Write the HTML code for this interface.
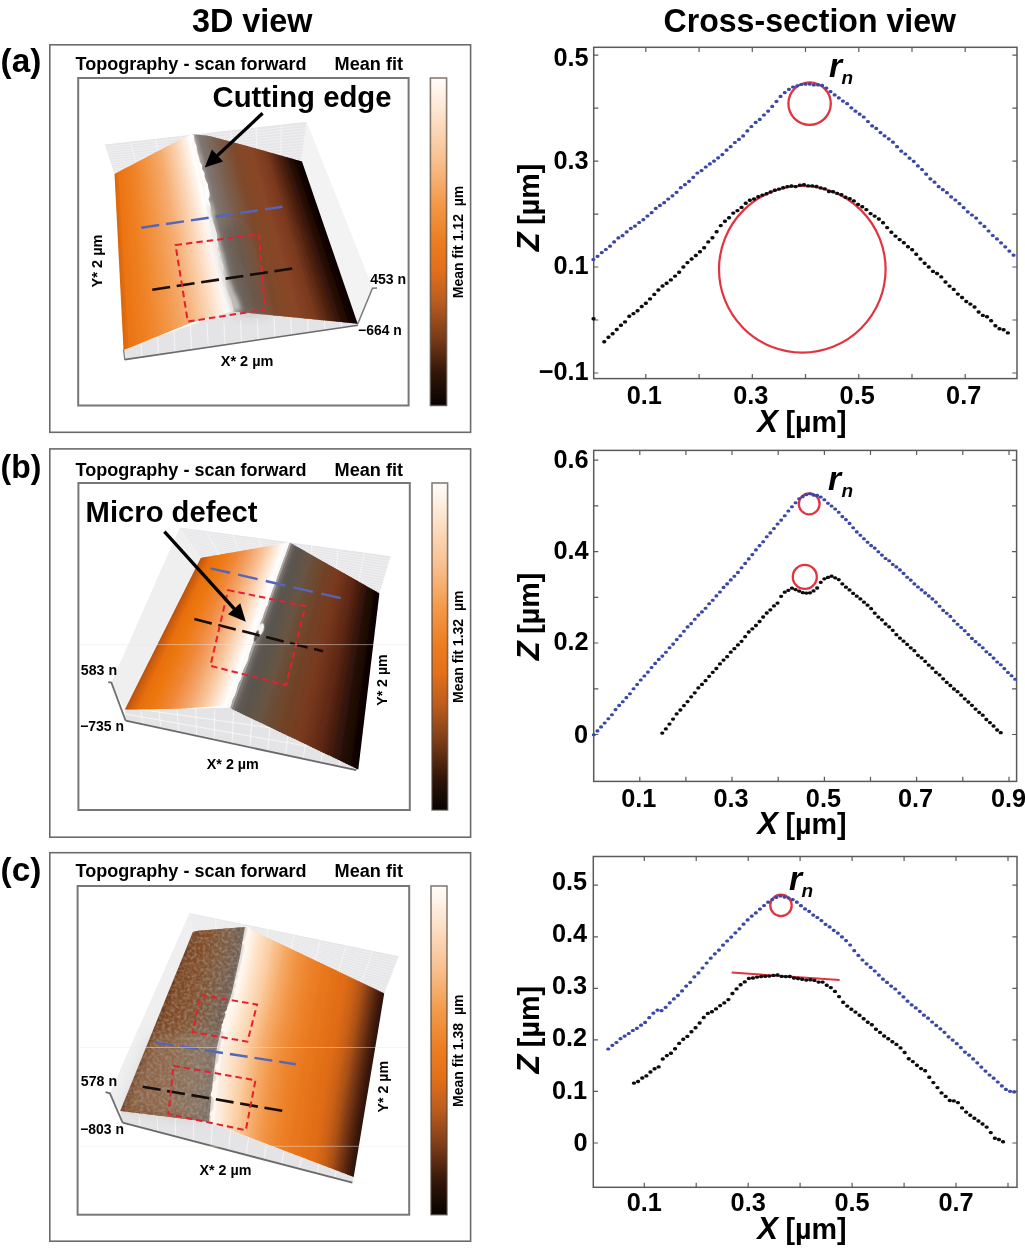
<!DOCTYPE html>
<html lang="en"><head><meta charset="utf-8"><title>3D view and cross-section view</title>
<style>html,body{margin:0;padding:0;background:#fff}svg{display:block}text{font-family:"Liberation Sans", Arial, Helvetica, sans-serif;font-weight:bold;fill:#000}</style>
</head><body>
<svg width="1025" height="1250" viewBox="0 0 1025 1250">
<rect width="1025" height="1250" fill="#fff"/>
<defs>
<linearGradient id="cbar" x1="0" y1="0" x2="0" y2="1"><stop offset="0" stop-color="#fffdfb"/><stop offset="0.12" stop-color="#fce0c8"/><stop offset="0.25" stop-color="#f8c090"/><stop offset="0.38" stop-color="#f39a4a"/><stop offset="0.50" stop-color="#ec7c20"/><stop offset="0.58" stop-color="#e4701a"/><stop offset="0.68" stop-color="#bc5c1e"/><stop offset="0.79" stop-color="#7c3c18"/><stop offset="0.90" stop-color="#321608"/><stop offset="1" stop-color="#060202"/></linearGradient>
<filter id="b0" x="-2%" y="-2%" width="104%" height="104%"><feGaussianBlur stdDeviation="0.45"/></filter><filter id="b1" x="-5%" y="-5%" width="110%" height="110%"><feGaussianBlur stdDeviation="0.7"/></filter><filter id="nz" x="0" y="0" width="100%" height="100%"><feTurbulence type="fractalNoise" baseFrequency="0.32" numOctaves="2" seed="5"/><feColorMatrix type="matrix" values="0 0 0 0 0.56  0 0 0 0 0.48  0 0 0 0 0.42  0.95 0 0 0 -0.36"/><feGaussianBlur stdDeviation="0.7"/></filter><filter id="b3" x="-30%" y="-30%" width="160%" height="160%"><feGaussianBlur stdDeviation="7"/></filter><filter id="b2" x="-20%" y="-20%" width="140%" height="140%"><feGaussianBlur stdDeviation="2"/></filter>
</defs>
<text x="192" y="32.3" font-size="32.3" textLength="120.5" lengthAdjust="spacingAndGlyphs">3D view</text>
<text x="663.5" y="32.3" font-size="32.3" textLength="292.5" lengthAdjust="spacingAndGlyphs">Cross-section view</text>
<text x="0.6" y="71.6" font-size="33" textLength="40.8" lengthAdjust="spacingAndGlyphs">(a)</text>
<rect x="49.8" y="44.8" width="420.8" height="387.5" fill="none" stroke="#6b6b6b" stroke-width="1.6"/>
<text x="75.6" y="69.8" font-size="18" textLength="231" lengthAdjust="spacingAndGlyphs">Topography - scan forward</text>
<text x="334.6" y="69.8" font-size="18" textLength="68.5" lengthAdjust="spacingAndGlyphs">Mean fit</text>
<rect x="78.2" y="78.0" width="330.4" height="327.5" fill="#fff" stroke="#777" stroke-width="2"/>
<rect x="430.4" y="78.0" width="16.2" height="327.5" fill="url(#cbar)" stroke="#54463c" stroke-opacity="0.7" stroke-width="1.6"/>
<text x="0.6" y="478.0" font-size="33" textLength="40.8" lengthAdjust="spacingAndGlyphs">(b)</text>
<rect x="49.8" y="448.9" width="420.8" height="388.3" fill="none" stroke="#6b6b6b" stroke-width="1.6"/>
<text x="75.6" y="475.5" font-size="18" textLength="231" lengthAdjust="spacingAndGlyphs">Topography - scan forward</text>
<text x="334.6" y="475.5" font-size="18" textLength="68.5" lengthAdjust="spacingAndGlyphs">Mean fit</text>
<rect x="78.4" y="483.0" width="331.4" height="327.0" fill="#fff" stroke="#777" stroke-width="2"/>
<rect x="432.0" y="483.0" width="15.6" height="327.0" fill="url(#cbar)" stroke="#54463c" stroke-opacity="0.7" stroke-width="1.6"/>
<text x="0.6" y="881.0" font-size="33" textLength="40.8" lengthAdjust="spacingAndGlyphs">(c)</text>
<rect x="49.8" y="852.7" width="420.8" height="388.5" fill="none" stroke="#6b6b6b" stroke-width="1.6"/>
<text x="75.6" y="877.2" font-size="18" textLength="231" lengthAdjust="spacingAndGlyphs">Topography - scan forward</text>
<text x="334.6" y="877.2" font-size="18" textLength="68.5" lengthAdjust="spacingAndGlyphs">Mean fit</text>
<rect x="77.6" y="886.0" width="331.6" height="328.7" fill="#fff" stroke="#777" stroke-width="2"/>
<rect x="431.0" y="886.0" width="16.0" height="328.7" fill="url(#cbar)" stroke="#54463c" stroke-opacity="0.7" stroke-width="1.6"/>
<polygon points="104.8,144.4 306.6,121.8 304.0,165.0 192.0,136.0 116.0,178.0" fill="#e6e6e8" />
<line x1="105.6" y1="146.7" x2="306.4" y2="124.7" stroke="#fff" stroke-width="0.70" stroke-opacity="0.55"/>
<line x1="106.4" y1="148.9" x2="306.2" y2="127.7" stroke="#fff" stroke-width="0.70" stroke-opacity="0.55"/>
<line x1="107.2" y1="151.2" x2="306.0" y2="130.6" stroke="#fff" stroke-width="0.70" stroke-opacity="0.55"/>
<line x1="108.0" y1="153.4" x2="305.9" y2="133.6" stroke="#fff" stroke-width="0.70" stroke-opacity="0.55"/>
<line x1="108.8" y1="155.7" x2="305.7" y2="136.5" stroke="#fff" stroke-width="0.70" stroke-opacity="0.55"/>
<line x1="109.6" y1="157.9" x2="305.5" y2="139.5" stroke="#fff" stroke-width="0.70" stroke-opacity="0.55"/>
<line x1="110.4" y1="160.2" x2="305.3" y2="142.4" stroke="#fff" stroke-width="0.70" stroke-opacity="0.55"/>
<line x1="111.2" y1="162.5" x2="305.1" y2="145.3" stroke="#fff" stroke-width="0.70" stroke-opacity="0.55"/>
<line x1="112.0" y1="164.7" x2="304.9" y2="148.3" stroke="#fff" stroke-width="0.70" stroke-opacity="0.55"/>
<line x1="112.8" y1="167.0" x2="304.7" y2="151.2" stroke="#fff" stroke-width="0.70" stroke-opacity="0.55"/>
<line x1="113.6" y1="169.2" x2="304.6" y2="154.2" stroke="#fff" stroke-width="0.70" stroke-opacity="0.55"/>
<line x1="114.4" y1="171.5" x2="304.4" y2="157.1" stroke="#fff" stroke-width="0.70" stroke-opacity="0.55"/>
<line x1="115.2" y1="173.7" x2="304.2" y2="160.1" stroke="#fff" stroke-width="0.70" stroke-opacity="0.55"/>
<line x1="130.0" y1="141.6" x2="139.5" y2="174.4" stroke="#fff" stroke-width="0.80" stroke-opacity="0.60"/>
<line x1="155.2" y1="138.8" x2="163.0" y2="172.8" stroke="#fff" stroke-width="0.80" stroke-opacity="0.60"/>
<line x1="180.5" y1="135.9" x2="186.5" y2="171.1" stroke="#fff" stroke-width="0.80" stroke-opacity="0.60"/>
<line x1="205.7" y1="133.1" x2="210.0" y2="169.5" stroke="#fff" stroke-width="0.80" stroke-opacity="0.60"/>
<line x1="230.9" y1="130.3" x2="233.5" y2="167.9" stroke="#fff" stroke-width="0.80" stroke-opacity="0.60"/>
<line x1="256.2" y1="127.5" x2="257.0" y2="166.2" stroke="#fff" stroke-width="0.80" stroke-opacity="0.60"/>
<line x1="281.4" y1="124.6" x2="280.5" y2="164.6" stroke="#fff" stroke-width="0.80" stroke-opacity="0.60"/>
<polygon points="306.6,121.8 372.7,288.0 357.7,323.7 301.0,160.0" fill="#f3f3f4" />
<polygon points="123.5,349.0 232.0,310.5 357.7,323.7 358.0,325.5 125.2,360.0" fill="#e4e4e6" />
<line x1="141.8" y1="357.5" x2="140.2" y2="328.6" stroke="#fff" stroke-width="0.80" stroke-opacity="0.80"/>
<line x1="158.5" y1="355.1" x2="157.0" y2="327.1" stroke="#fff" stroke-width="0.80" stroke-opacity="0.80"/>
<line x1="175.1" y1="352.6" x2="173.7" y2="325.7" stroke="#fff" stroke-width="0.80" stroke-opacity="0.80"/>
<line x1="191.7" y1="350.1" x2="190.4" y2="324.3" stroke="#fff" stroke-width="0.80" stroke-opacity="0.80"/>
<line x1="208.3" y1="347.7" x2="207.1" y2="322.9" stroke="#fff" stroke-width="0.80" stroke-opacity="0.80"/>
<line x1="225.0" y1="345.2" x2="223.9" y2="321.4" stroke="#fff" stroke-width="0.80" stroke-opacity="0.80"/>
<line x1="241.6" y1="342.8" x2="240.6" y2="320.0" stroke="#fff" stroke-width="0.80" stroke-opacity="0.80"/>
<line x1="258.2" y1="340.3" x2="257.3" y2="318.6" stroke="#fff" stroke-width="0.80" stroke-opacity="0.80"/>
<line x1="274.9" y1="337.8" x2="274.1" y2="317.1" stroke="#fff" stroke-width="0.80" stroke-opacity="0.80"/>
<line x1="291.5" y1="335.4" x2="290.8" y2="315.7" stroke="#fff" stroke-width="0.80" stroke-opacity="0.80"/>
<line x1="308.1" y1="332.9" x2="307.5" y2="314.3" stroke="#fff" stroke-width="0.80" stroke-opacity="0.80"/>
<line x1="324.7" y1="330.4" x2="324.2" y2="312.9" stroke="#fff" stroke-width="0.80" stroke-opacity="0.80"/>
<line x1="341.4" y1="328.0" x2="341.0" y2="311.4" stroke="#fff" stroke-width="0.80" stroke-opacity="0.80"/>
<line x1="124.6" y1="359.6" x2="358.0" y2="325.2" stroke="#6a6a6a" stroke-width="1.60" />
<line x1="123.5" y1="349.5" x2="124.8" y2="360.0" stroke="#777" stroke-width="1.20" />
<polyline points="357.7,324 372.5,288.3 377,288" fill="none" stroke="#7a7a7a" stroke-width="1.5"/>
<g filter="url(#b1)"><polygon points="114.5,174.0 117.5,172.4 127.6,348.3 123.5,350.0" fill="#dc670e"/>
<polygon points="116.4,173.0 119.3,171.5 130.2,347.3 126.1,349.0" fill="#e46d10"/>
<polygon points="118.2,172.1 121.2,170.5 132.8,346.3 128.6,347.9" fill="#ec7412"/>
<polygon points="120.1,171.1 123.0,169.5 135.3,345.2 131.2,346.9" fill="#ec7614"/>
<polygon points="121.9,170.1 124.9,168.6 137.9,344.2 133.8,345.9" fill="#ed7817"/>
<polygon points="123.8,169.1 126.7,167.6 140.5,343.2 136.4,344.8" fill="#ed7a1a"/>
<polygon points="125.6,168.2 128.6,166.6 143.1,342.1 138.9,343.8" fill="#ee7c1d"/>
<polygon points="127.5,167.2 130.4,165.7 145.6,341.1 141.5,342.7" fill="#ee7e1f"/>
<polygon points="129.3,166.2 132.3,164.7 148.2,340.0 144.1,341.7" fill="#ef8022"/>
<polygon points="131.2,165.3 134.1,163.7 150.8,339.0 146.7,340.7" fill="#ef8225"/>
<polygon points="133.0,164.3 136.0,162.7 153.4,338.0 149.2,339.6" fill="#f08428"/>
<polygon points="134.9,163.3 137.8,161.8 155.9,336.9 151.8,338.6" fill="#f0862c"/>
<polygon points="136.7,162.4 139.7,160.8 158.5,335.9 154.4,337.6" fill="#f08931"/>
<polygon points="138.6,161.4 141.6,159.8 161.1,334.9 157.0,336.5" fill="#f18c35"/>
<polygon points="140.4,160.4 143.4,158.9 163.7,333.8 159.5,335.5" fill="#f18e3a"/>
<polygon points="142.3,159.4 145.3,157.9 166.2,332.8 162.1,334.4" fill="#f2913e"/>
<polygon points="144.1,158.5 147.1,156.9 168.8,331.7 164.7,333.4" fill="#f29443"/>
<polygon points="146.0,157.5 149.0,155.9 171.4,330.7 167.3,332.4" fill="#f29647"/>
<polygon points="147.9,156.5 150.8,155.0 174.0,329.7 169.8,331.3" fill="#f3994c"/>
<polygon points="149.7,155.6 152.7,154.0 176.5,328.6 172.4,330.3" fill="#f39c52"/>
<polygon points="151.6,154.6 154.5,153.0 179.1,327.6 175.0,329.3" fill="#f49f58"/>
<polygon points="153.4,153.6 156.4,152.1 181.7,326.6 177.6,328.2" fill="#f4a25e"/>
<polygon points="155.3,152.6 158.2,151.1 184.2,325.5 180.1,327.2" fill="#f4a563"/>
<polygon points="157.1,151.7 160.1,150.1 186.8,324.5 182.7,326.1" fill="#f5a869"/>
<polygon points="159.0,150.7 161.9,149.2 189.4,323.5 185.3,325.1" fill="#f5ab6f"/>
<polygon points="160.8,149.7 163.8,148.2 192.0,322.4 187.9,324.1" fill="#f6af75"/>
<polygon points="162.7,148.8 165.6,147.2 194.6,321.6 190.4,323.0" fill="#f6b47e"/>
<polygon points="164.5,147.8 167.5,146.2 197.2,320.9 193.0,322.0" fill="#f7b986"/>
<polygon points="166.4,146.8 169.3,145.3 199.8,320.1 195.6,321.3" fill="#f8be8e"/>
<polygon points="168.2,145.9 171.2,144.3 202.4,319.4 198.2,320.6" fill="#f8c397"/>
<polygon points="170.1,144.9 173.1,143.3 205.0,318.7 200.8,319.9" fill="#f9c89f"/>
<polygon points="171.9,143.9 174.9,142.4 207.6,318.0 203.4,319.1" fill="#facda8"/>
<polygon points="173.8,142.9 176.8,141.4 210.2,317.3 206.0,318.4" fill="#fad2b0"/>
<polygon points="175.6,142.0 178.6,140.5 212.8,316.6 208.6,317.7" fill="#fbd7b9"/>
<polygon points="177.5,141.0 180.4,139.7 215.4,315.9 211.2,317.0" fill="#fcdcc2"/>
<polygon points="179.3,140.2 182.2,138.8 218.0,315.2 213.8,316.3" fill="#fce1cc"/>
<polygon points="181.1,139.3 184.0,138.0 220.6,314.4 216.4,315.6" fill="#fde7d5"/>
<polygon points="182.9,138.5 185.8,137.1 223.2,313.7 219.0,314.9" fill="#feecde"/>
<polygon points="184.8,137.7 187.7,136.3 225.8,313.0 221.6,314.2" fill="#fef1e8"/>
<polygon points="186.6,136.8 189.5,135.5 228.4,312.3 224.2,313.4" fill="#fff8f3"/>
<polygon points="188.4,136.0 191.3,134.6 231.0,311.6 226.8,312.7" fill="#ffffff"/>
<polygon points="190.2,135.1 193.1,134.4 233.3,311.4 229.4,312.0" fill="#fcfbfa"/>
<polygon points="192.0,134.3 195.1,134.6 235.5,311.6 232.0,311.3" fill="#cdcbc8"/>
<polygon points="193.9,134.5 197.0,134.7 237.6,311.9 234.2,311.5" fill="#8c8783"/>
<polygon points="195.8,134.6 198.9,134.9 239.8,312.1 236.3,311.7" fill="#857e7a"/>
<polygon points="197.7,134.8 200.8,135.1 242.0,312.3 238.5,311.9" fill="#7f7773"/>
<polygon points="199.6,135.0 202.7,135.3 244.1,312.5 240.7,312.2" fill="#7f746f"/>
<polygon points="201.5,135.2 204.6,135.4 246.3,312.7 242.8,312.4" fill="#7e726b"/>
<polygon points="203.5,135.3 206.5,135.6 248.5,312.9 245.0,312.6" fill="#7d6f67"/>
<polygon points="205.4,135.5 208.4,135.8 250.6,313.1 247.2,312.8" fill="#7d6c63"/>
<polygon points="207.3,135.7 210.3,136.2 252.8,313.4 249.3,313.0" fill="#7c695e"/>
<polygon points="209.2,135.9 212.2,136.7 255.0,313.6 251.5,313.2" fill="#7b675a"/>
<polygon points="211.1,136.4 214.1,137.2 257.1,313.8 253.7,313.4" fill="#7b6456"/>
<polygon points="213.0,136.9 216.0,137.7 259.3,314.0 255.8,313.7" fill="#7a6152"/>
<polygon points="214.8,137.4 217.9,138.2 261.5,314.2 258.0,313.9" fill="#7a5f4e"/>
<polygon points="216.7,137.9 219.8,138.7 263.6,314.4 260.2,314.1" fill="#7a5c4a"/>
<polygon points="218.6,138.4 221.6,139.2 265.8,314.6 262.3,314.3" fill="#7b5a46"/>
<polygon points="220.5,138.9 223.5,139.8 268.0,314.8 264.5,314.5" fill="#7c5842"/>
<polygon points="222.4,139.5 225.4,140.3 270.1,315.1 266.7,314.7" fill="#7c553e"/>
<polygon points="224.3,140.0 227.3,140.8 272.3,315.3 268.8,314.9" fill="#7d533a"/>
<polygon points="226.2,140.5 229.2,141.3 274.5,315.5 271.0,315.1" fill="#7d5036"/>
<polygon points="228.1,141.0 231.1,141.8 276.6,315.7 273.2,315.4" fill="#7e4e32"/>
<polygon points="229.9,141.5 233.0,142.3 278.8,315.9 275.3,315.6" fill="#7f4b2e"/>
<polygon points="231.8,142.0 234.9,142.8 281.0,316.1 277.5,315.8" fill="#7f492a"/>
<polygon points="233.7,142.5 236.7,143.3 283.1,316.3 279.7,316.0" fill="#804829"/>
<polygon points="235.6,143.0 238.6,143.8 285.3,316.6 281.8,316.2" fill="#824829"/>
<polygon points="237.5,143.5 240.5,144.3 287.5,316.8 284.0,316.4" fill="#834829"/>
<polygon points="239.4,144.0 242.4,144.8 289.6,317.0 286.2,316.6" fill="#844729"/>
<polygon points="241.3,144.5 244.3,145.3 291.8,317.2 288.3,316.9" fill="#854728"/>
<polygon points="243.2,145.0 246.2,145.8 294.0,317.4 290.5,317.1" fill="#864728"/>
<polygon points="245.1,145.5 248.1,146.3 296.2,317.6 292.7,317.3" fill="#874628"/>
<polygon points="246.9,146.0 250.0,146.9 298.3,317.8 294.8,317.5" fill="#884628"/>
<polygon points="248.8,146.5 251.9,147.4 300.5,318.1 297.0,317.7" fill="#894628"/>
<polygon points="250.7,147.1 253.8,147.9 302.7,318.3 299.2,317.9" fill="#884426"/>
<polygon points="252.6,147.6 255.7,148.5 304.8,318.5 301.4,318.1" fill="#864325"/>
<polygon points="254.5,148.1 257.6,149.0 307.0,318.7 303.5,318.4" fill="#844124"/>
<polygon points="256.4,148.7 259.5,149.5 309.2,318.9 305.7,318.6" fill="#824023"/>
<polygon points="258.3,149.2 261.4,150.1 311.3,319.1 307.9,318.8" fill="#803e21"/>
<polygon points="260.2,149.7 263.3,150.6 313.5,319.3 310.0,319.0" fill="#7e3d20"/>
<polygon points="262.1,150.3 265.2,151.1 315.7,319.6 312.2,319.2" fill="#7c3b1f"/>
<polygon points="264.0,150.8 267.1,151.7 317.8,319.8 314.4,319.4" fill="#7a3a1e"/>
<polygon points="265.9,151.3 269.0,152.2 320.0,320.0 316.5,319.6" fill="#74371c"/>
<polygon points="267.8,151.9 270.9,152.7 322.2,320.2 318.7,319.9" fill="#6e331a"/>
<polygon points="269.7,152.4 272.8,153.3 324.3,320.4 320.9,320.1" fill="#683018"/>
<polygon points="271.6,153.0 274.7,153.8 326.5,320.6 323.0,320.3" fill="#612c15"/>
<polygon points="273.5,153.5 276.6,154.3 328.7,320.8 325.2,320.5" fill="#5b2913"/>
<polygon points="275.4,154.0 278.5,154.9 330.8,321.0 327.4,320.7" fill="#542511"/>
<polygon points="277.3,154.6 280.4,155.4 333.0,321.3 329.5,320.9" fill="#4e220f"/>
<polygon points="279.2,155.1 282.3,155.9 335.2,321.5 331.7,321.1" fill="#481f0d"/>
<polygon points="281.1,155.6 284.2,156.5 337.3,321.7 333.9,321.3" fill="#411b0c"/>
<polygon points="283.0,156.2 286.0,157.0 339.5,321.9 336.0,321.6" fill="#3a180a"/>
<polygon points="284.9,156.7 287.9,157.5 341.7,322.1 338.2,321.8" fill="#341509"/>
<polygon points="286.8,157.2 289.8,158.1 343.8,322.3 340.4,322.0" fill="#2d1108"/>
<polygon points="288.7,157.8 291.7,158.6 346.0,322.5 342.5,322.2" fill="#270e06"/>
<polygon points="290.6,158.3 293.6,159.1 348.2,322.8 344.7,322.4" fill="#200b05"/>
<polygon points="292.5,158.8 295.5,159.7 350.3,323.0 346.9,322.6" fill="#1a0804"/>
<polygon points="294.4,159.4 297.4,160.2 352.5,323.2 349.0,322.8" fill="#160603"/>
<polygon points="296.3,159.9 299.3,160.8 354.7,323.4 351.2,323.1" fill="#120503"/>
<polygon points="298.2,160.4 301.2,161.3 356.8,323.6 353.4,323.3" fill="#0f0402"/>
<polygon points="300.1,161.0 302.0,161.5 357.7,323.7 355.5,323.5" fill="#0b0202"/></g>
<polygon points="218.0,225.0 240.0,225.0 266.0,312.0 238.0,312.0" fill="#46423e" fill-opacity="0.33" filter="url(#b3)"/>
<polygon points="193.5,135.0 195.2,138.8 196.5,142.5 197.4,146.3 197.7,150.1 199.7,153.9 201.4,157.6 202.0,161.4 202.8,165.2 203.1,168.9 204.0,172.7 205.1,176.5 206.3,180.3 207.1,184.1 208.3,187.9 208.3,191.8 209.0,195.7 209.7,199.5 211.3,203.4 212.5,207.3 213.8,211.2 214.2,215.0 213.4,218.9 214.3,222.8 215.4,226.6 216.1,230.5 218.1,234.3 218.5,238.2 219.0,242.0 220.8,245.8 220.9,249.7 223.1,253.5 223.7,257.4 224.8,261.2 225.3,265.0 226.4,268.9 227.0,272.7 228.0,276.5 229.8,280.3 230.6,284.1 232.9,287.8 233.4,291.6 236.2,295.4 238.1,299.1 239.3,302.9 240.6,306.7 241.4,310.5 231.5,310.5 230.5,306.7 229.6,302.9 228.6,299.1 227.5,295.4 226.4,291.6 225.3,287.8 224.2,284.1 223.0,280.3 222.1,276.5 221.3,272.7 220.5,268.9 219.8,265.0 219.0,261.2 218.2,257.4 217.4,253.5 216.6,249.7 215.9,245.8 215.2,242.0 214.4,238.2 213.7,234.3 213.0,230.5 212.3,226.6 211.5,222.8 210.8,218.9 210.3,215.0 209.7,211.2 209.1,207.3 208.5,203.4 208.0,199.5 207.4,195.7 206.8,191.8 206.2,187.9 205.7,184.1 204.7,180.3 203.7,176.5 202.6,172.7 201.6,168.9 200.5,165.2 199.5,161.4 198.4,157.6 197.4,153.9 196.3,150.1 195.3,146.3 194.2,142.5 193.2,138.8 192.1,135.0" fill="#dddad7" fill-opacity="0.72" filter="url(#b2)"/>
<polygon points="194.1,135.0 193.7,138.8 194.4,142.5 196.6,146.3 196.6,150.1 197.5,153.9 198.9,157.6 199.7,161.4 202.0,165.2 202.1,168.9 204.5,172.7 204.6,176.5 205.8,180.3 207.8,184.1 208.2,187.9 209.4,191.8 209.7,195.7 208.4,199.5 210.1,203.4 210.6,207.3 210.5,211.2 210.6,215.0 212.3,218.9 213.0,222.8 214.7,226.6 215.6,230.5 216.9,234.3 217.0,238.2 217.7,242.0 218.2,245.8 218.0,249.7 220.0,253.5 219.9,257.4 221.4,261.2 223.0,265.0 223.5,268.9 222.9,272.7 224.6,276.5 225.7,280.3 225.7,284.1 226.6,287.8 227.8,291.6 228.9,295.4 231.0,299.1 231.9,302.9 232.9,306.7 233.6,310.5 229.0,310.5 228.0,306.7 227.1,302.9 226.1,299.1 225.0,295.4 223.9,291.6 222.8,287.8 221.7,284.1 220.5,280.3 219.6,276.5 218.8,272.7 218.0,268.9 217.3,265.0 216.5,261.2 215.7,257.4 214.9,253.5 214.1,249.7 213.4,245.8 212.7,242.0 211.9,238.2 211.2,234.3 210.5,230.5 209.8,226.6 209.0,222.8 208.3,218.9 207.8,215.0 207.2,211.2 206.6,207.3 206.0,203.4 205.5,199.5 204.9,195.7 204.3,191.8 203.7,187.9 203.2,184.1 202.2,180.3 201.2,176.5 200.1,172.7 199.1,168.9 198.0,165.2 197.0,161.4 195.9,157.6 194.9,153.9 193.8,150.1 192.8,146.3 191.7,142.5 190.7,138.8 189.6,135.0" fill="#fdfcfb" fill-opacity="1.00" filter="url(#b1)"/>
<polygon points="210.3,205.0 211.6,208.6 212.5,212.1 211.7,215.7 212.7,219.2 213.2,222.8 214.1,226.3 214.4,229.8 215.2,233.4 216.1,236.9 216.9,240.5 217.7,244.0 218.5,247.5 219.4,251.1 220.3,254.6 221.2,258.1 222.3,261.7 223.7,265.2 224.1,268.7 224.6,272.2 226.0,275.8 227.1,279.3 228.5,282.7 229.7,286.2 231.6,289.6 232.0,293.1 233.5,296.6 234.0,300.0 235.1,303.5 236.4,307.0 236.9,310.5 231.0,310.5 230.1,307.0 229.2,303.5 228.3,300.0 227.4,296.6 226.3,293.1 225.3,289.6 224.3,286.2 223.3,282.7 222.2,279.3 221.4,275.8 220.7,272.2 220.0,268.7 219.3,265.2 218.6,261.7 217.9,258.1 217.1,254.6 216.4,251.1 215.7,247.5 215.1,244.0 214.4,240.5 213.7,236.9 213.0,233.4 212.4,229.8 211.7,226.3 211.0,222.8 210.4,219.2 209.8,215.7 209.2,212.1 208.6,208.6 208.0,205.0" fill="#bcb8b4" fill-opacity="0.60" filter="url(#b2)"/>
<g filter="url(#b1)">
<line x1="141.4" y1="227.7" x2="282.3" y2="206.8" stroke="#5266b8" stroke-width="2.40" stroke-dasharray="18 7"/>
<line x1="152.3" y1="289.7" x2="292.3" y2="268.5" stroke="#160c08" stroke-width="2.60" stroke-dasharray="18 6.7"/>
<polygon points="175.5,245.0 259.0,234.3 265.0,309.6 187.8,321.6" fill="none" stroke="#e3202e" stroke-width="2" stroke-dasharray="6.5 4"/>
</g>
<line x1="262.6" y1="113.2" x2="216.0" y2="156.9" stroke="#000" stroke-width="3.30" /><polygon points="204.7,167.5 211.9,149.5 223.1,161.5" fill="#000" />
<text x="212.5" y="106.5" font-size="29.3" textLength="179.0" lengthAdjust="spacingAndGlyphs" >Cutting edge</text>
<text x="101.7" y="287.4" font-size="15.3" textLength="53.0" lengthAdjust="spacingAndGlyphs" transform="rotate(-90 101.7 287.4)" >Y* 2 µm</text>
<text x="220.8" y="366.3" font-size="15.0" textLength="52.6" lengthAdjust="spacingAndGlyphs" >X* 2 µm</text>
<text x="370.2" y="283.6" font-size="14.2" textLength="36.0" lengthAdjust="spacingAndGlyphs" >453 n</text>
<text x="358.1" y="335.3" font-size="14.2" textLength="43.6" lengthAdjust="spacingAndGlyphs" >−664 n</text>
<text x="463.4" y="298.2" font-size="14.2" textLength="112.5" lengthAdjust="spacingAndGlyphs" transform="rotate(-90 463.4 298.2)" >Mean fit 1.12  µm</text>
<polygon points="179.8,527.4 390.7,556.3 379.4,593.4 289.6,542.5 200.7,558.0" fill="#e6e6e8" />
<line x1="181.2" y1="529.4" x2="389.9" y2="558.8" stroke="#fff" stroke-width="0.70" stroke-opacity="0.55"/>
<line x1="182.6" y1="531.4" x2="389.2" y2="561.3" stroke="#fff" stroke-width="0.70" stroke-opacity="0.55"/>
<line x1="184.0" y1="533.5" x2="388.4" y2="563.7" stroke="#fff" stroke-width="0.70" stroke-opacity="0.55"/>
<line x1="185.4" y1="535.5" x2="387.7" y2="566.2" stroke="#fff" stroke-width="0.70" stroke-opacity="0.55"/>
<line x1="186.8" y1="537.6" x2="386.9" y2="568.7" stroke="#fff" stroke-width="0.70" stroke-opacity="0.55"/>
<line x1="188.2" y1="539.6" x2="386.2" y2="571.2" stroke="#fff" stroke-width="0.70" stroke-opacity="0.55"/>
<line x1="189.6" y1="541.6" x2="385.4" y2="573.6" stroke="#fff" stroke-width="0.70" stroke-opacity="0.55"/>
<line x1="191.0" y1="543.7" x2="384.7" y2="576.1" stroke="#fff" stroke-width="0.70" stroke-opacity="0.55"/>
<line x1="192.4" y1="545.7" x2="383.9" y2="578.6" stroke="#fff" stroke-width="0.70" stroke-opacity="0.55"/>
<line x1="193.8" y1="547.8" x2="383.2" y2="581.0" stroke="#fff" stroke-width="0.70" stroke-opacity="0.55"/>
<line x1="195.2" y1="549.8" x2="382.4" y2="583.5" stroke="#fff" stroke-width="0.70" stroke-opacity="0.55"/>
<line x1="196.5" y1="551.8" x2="381.7" y2="586.0" stroke="#fff" stroke-width="0.70" stroke-opacity="0.55"/>
<line x1="197.9" y1="553.9" x2="380.9" y2="588.4" stroke="#fff" stroke-width="0.70" stroke-opacity="0.55"/>
<line x1="199.3" y1="555.9" x2="380.2" y2="590.9" stroke="#fff" stroke-width="0.70" stroke-opacity="0.55"/>
<line x1="206.2" y1="531.0" x2="223.1" y2="562.4" stroke="#fff" stroke-width="0.80" stroke-opacity="0.60"/>
<line x1="232.5" y1="534.6" x2="245.4" y2="566.8" stroke="#fff" stroke-width="0.80" stroke-opacity="0.60"/>
<line x1="258.9" y1="538.2" x2="267.7" y2="571.2" stroke="#fff" stroke-width="0.80" stroke-opacity="0.60"/>
<line x1="285.2" y1="541.9" x2="290.1" y2="575.7" stroke="#fff" stroke-width="0.80" stroke-opacity="0.60"/>
<line x1="311.6" y1="545.5" x2="312.4" y2="580.1" stroke="#fff" stroke-width="0.80" stroke-opacity="0.60"/>
<line x1="338.0" y1="549.1" x2="334.7" y2="584.5" stroke="#fff" stroke-width="0.80" stroke-opacity="0.60"/>
<line x1="364.3" y1="552.7" x2="357.1" y2="588.9" stroke="#fff" stroke-width="0.80" stroke-opacity="0.60"/>
<polygon points="179.8,527.4 200.7,558.0 124.8,709.6 111.4,682.6" fill="#efeff0" />
<polygon points="124.8,709.6 229.4,707.8 358.3,769.4 356.3,770.2 125.6,720.6" fill="#e4e4e6" />
<line x1="143.3" y1="724.4" x2="138.9" y2="702.0" stroke="#fff" stroke-width="0.80" stroke-opacity="0.80"/>
<line x1="161.1" y1="728.2" x2="157.8" y2="704.0" stroke="#fff" stroke-width="0.80" stroke-opacity="0.80"/>
<line x1="178.8" y1="732.0" x2="176.8" y2="706.0" stroke="#fff" stroke-width="0.80" stroke-opacity="0.80"/>
<line x1="196.6" y1="735.9" x2="195.7" y2="708.0" stroke="#fff" stroke-width="0.80" stroke-opacity="0.80"/>
<line x1="214.3" y1="739.7" x2="214.6" y2="710.0" stroke="#fff" stroke-width="0.80" stroke-opacity="0.80"/>
<line x1="232.1" y1="743.5" x2="233.5" y2="712.0" stroke="#fff" stroke-width="0.80" stroke-opacity="0.80"/>
<line x1="249.8" y1="747.3" x2="252.5" y2="714.0" stroke="#fff" stroke-width="0.80" stroke-opacity="0.80"/>
<line x1="267.6" y1="751.1" x2="271.4" y2="716.0" stroke="#fff" stroke-width="0.80" stroke-opacity="0.80"/>
<line x1="285.3" y1="754.9" x2="290.3" y2="718.0" stroke="#fff" stroke-width="0.80" stroke-opacity="0.80"/>
<line x1="303.1" y1="758.8" x2="309.2" y2="720.0" stroke="#fff" stroke-width="0.80" stroke-opacity="0.80"/>
<line x1="320.8" y1="762.6" x2="328.2" y2="722.0" stroke="#fff" stroke-width="0.80" stroke-opacity="0.80"/>
<line x1="338.6" y1="766.4" x2="347.1" y2="724.0" stroke="#fff" stroke-width="0.80" stroke-opacity="0.80"/>
<line x1="123.7" y1="713.7" x2="359.5" y2="755.5" stroke="#fff" stroke-width="0.80" stroke-opacity="0.80"/>
<line x1="121.9" y1="706.9" x2="362.8" y2="740.7" stroke="#fff" stroke-width="0.80" stroke-opacity="0.80"/>
<line x1="125.6" y1="720.6" x2="356.3" y2="770.2" stroke="#6a6a6a" stroke-width="1.80" />
<polyline points="108.2,682.2 111.4,682.6 125.6,720.6" fill="none" stroke="#707070" stroke-width="1.8"/>
<g filter="url(#b1)"><polygon points="200.7,558.0 203.6,557.5 128.2,709.5 124.8,709.6" fill="#bd530c"/>
<polygon points="202.5,557.6 205.4,557.1 130.3,709.5 126.9,709.6" fill="#c85a0c"/>
<polygon points="204.3,557.3 207.1,556.8 132.4,709.5 129.0,709.5" fill="#cf5f0c"/>
<polygon points="206.1,557.0 208.9,556.5 134.5,709.4 131.1,709.5" fill="#d6630c"/>
<polygon points="207.8,556.7 210.7,556.2 136.6,709.4 133.2,709.5" fill="#dc680c"/>
<polygon points="209.6,556.4 212.5,555.9 138.7,709.4 135.3,709.4" fill="#e36c0c"/>
<polygon points="211.4,556.1 214.2,555.6 140.8,709.3 137.4,709.4" fill="#e8700c"/>
<polygon points="213.2,555.8 216.0,555.3 142.9,709.3 139.5,709.4" fill="#e9710d"/>
<polygon points="215.0,555.5 217.8,555.0 145.0,709.3 141.6,709.3" fill="#e9730e"/>
<polygon points="216.7,555.2 219.6,554.7 147.1,709.2 143.7,709.3" fill="#ea740f"/>
<polygon points="218.5,554.9 221.4,554.4 149.2,709.2 145.8,709.3" fill="#eb7610"/>
<polygon points="220.3,554.6 223.1,554.1 151.3,709.2 147.9,709.2" fill="#ec7711"/>
<polygon points="222.1,554.2 224.9,553.7 153.4,709.1 150.0,709.2" fill="#ed7813"/>
<polygon points="223.8,553.9 226.7,553.4 155.5,709.1 152.2,709.2" fill="#ee7a14"/>
<polygon points="225.6,553.6 228.5,553.1 157.6,709.1 154.3,709.1" fill="#ee7c19"/>
<polygon points="227.4,553.3 230.2,552.8 159.7,709.0 156.4,709.1" fill="#ee7d1e"/>
<polygon points="229.2,553.0 232.0,552.5 161.8,709.0 158.5,709.0" fill="#ee7f23"/>
<polygon points="230.9,552.7 233.8,552.2 163.9,709.0 160.6,709.0" fill="#ef8128"/>
<polygon points="232.7,552.4 235.6,551.9 166.0,708.9 162.7,709.0" fill="#ef832d"/>
<polygon points="234.5,552.1 237.3,551.6 168.1,708.9 164.8,708.9" fill="#ef8431"/>
<polygon points="236.3,551.8 239.1,551.3 170.2,708.9 166.9,708.9" fill="#ef8636"/>
<polygon points="238.1,551.5 240.9,551.0 172.3,708.8 169.0,708.9" fill="#f0893b"/>
<polygon points="239.8,551.2 242.7,550.7 174.5,708.8 171.1,708.8" fill="#f08c41"/>
<polygon points="241.6,550.8 244.5,550.3 176.6,708.7 173.2,708.8" fill="#f19047"/>
<polygon points="243.4,550.5 246.2,550.0 178.7,708.7 175.3,708.8" fill="#f1934d"/>
<polygon points="245.2,550.2 248.0,549.7 180.8,708.6 177.4,708.7" fill="#f29753"/>
<polygon points="246.9,549.9 249.8,549.4 183.0,708.5 179.5,708.7" fill="#f29b59"/>
<polygon points="248.7,549.6 251.6,549.1 185.1,708.3 181.7,708.6" fill="#f39e5f"/>
<polygon points="250.5,549.3 253.3,548.8 187.3,708.2 183.8,708.4" fill="#f3a265"/>
<polygon points="252.3,549.0 255.1,548.5 189.5,708.0 186.0,708.2" fill="#f4a66b"/>
<polygon points="254.1,548.7 256.9,548.2 191.6,707.9 188.2,708.1" fill="#f4aa72"/>
<polygon points="255.8,548.4 258.7,547.9 193.8,707.7 190.3,708.0" fill="#f5af79"/>
<polygon points="257.6,548.1 260.5,547.6 196.0,707.6 192.5,707.8" fill="#f6b380"/>
<polygon points="259.4,547.8 262.2,547.3 198.1,707.4 194.7,707.6" fill="#f6b887"/>
<polygon points="261.2,547.4 264.0,547.0 200.3,707.3 196.8,707.5" fill="#f7bc8e"/>
<polygon points="262.9,547.1 265.8,546.6 202.5,707.1 199.0,707.4" fill="#f8c195"/>
<polygon points="264.7,546.8 267.6,546.3 204.6,707.0 201.2,707.2" fill="#f8c59c"/>
<polygon points="266.5,546.5 269.3,546.0 206.8,706.8 203.3,707.1" fill="#f9caa4"/>
<polygon points="268.3,546.2 271.1,545.7 209.0,706.7 205.5,706.9" fill="#fad0ad"/>
<polygon points="270.0,545.9 272.9,545.4 211.1,706.5 207.7,706.8" fill="#fad5b7"/>
<polygon points="271.8,545.6 274.7,545.1 213.3,706.4 209.8,706.6" fill="#fbdac0"/>
<polygon points="273.6,545.3 276.4,544.8 215.5,706.2 212.0,706.5" fill="#fce0c9"/>
<polygon points="275.4,545.0 278.2,544.5 217.6,706.1 214.2,706.3" fill="#fce5d3"/>
<polygon points="277.2,544.7 280.0,544.2 219.6,706.2 216.3,706.1" fill="#fdeadc"/>
<polygon points="278.9,544.4 281.8,543.9 221.4,706.5 218.5,706.0" fill="#fdefe5"/>
<polygon points="280.7,544.0 283.6,543.6 223.2,706.8 220.3,706.3" fill="#fef5ed"/>
<polygon points="282.5,543.7 285.3,543.2 225.0,707.1 222.1,706.6" fill="#fefaf6"/>
<polygon points="284.3,543.4 287.1,542.9 226.9,707.4 223.9,706.9" fill="#fefefe"/>
<polygon points="286.0,543.1 288.9,542.6 228.7,707.7 225.8,707.2" fill="#fcfbfa"/>
<polygon points="287.8,542.8 290.7,543.1 230.9,708.5 227.6,707.5" fill="#faf8f7"/>
<polygon points="289.6,542.5 292.5,544.1 233.5,709.8 229.4,707.8" fill="#a8a4a0"/>
<polygon points="291.4,543.5 294.3,545.1 236.1,711.0 232.0,709.0" fill="#79736f"/>
<polygon points="293.2,544.5 296.1,546.2 238.7,712.2 234.6,710.3" fill="#68625d"/>
<polygon points="295.0,545.6 297.9,547.2 241.3,713.5 237.1,711.5" fill="#5e5853"/>
<polygon points="296.8,546.6 299.7,548.2 243.8,714.7 239.7,712.7" fill="#5c5651"/>
<polygon points="298.6,547.6 301.5,549.2 246.4,715.9 242.3,714.0" fill="#5a544e"/>
<polygon points="300.4,548.6 303.3,550.2 249.0,717.2 244.9,715.2" fill="#5b544c"/>
<polygon points="302.2,549.6 305.0,551.2 251.6,718.4 247.4,716.4" fill="#5e544a"/>
<polygon points="304.0,550.6 306.8,552.3 254.1,719.6 250.0,717.7" fill="#615448"/>
<polygon points="305.8,551.7 308.6,553.3 256.7,720.9 252.6,718.9" fill="#645446"/>
<polygon points="307.6,552.7 310.4,554.3 259.3,722.1 255.2,720.1" fill="#665444"/>
<polygon points="309.4,553.7 312.2,555.3 261.9,723.3 257.8,721.4" fill="#695442"/>
<polygon points="311.2,554.7 314.0,556.3 264.5,724.6 260.3,722.6" fill="#6a523f"/>
<polygon points="313.0,555.7 315.8,557.4 267.0,725.8 262.9,723.8" fill="#6b503b"/>
<polygon points="314.7,556.7 317.6,558.4 269.6,727.0 265.5,725.0" fill="#6c4e38"/>
<polygon points="316.5,557.8 319.4,559.4 272.2,728.3 268.1,726.3" fill="#6d4c35"/>
<polygon points="318.3,558.8 321.2,560.4 274.8,729.5 270.6,727.5" fill="#6d4a32"/>
<polygon points="320.1,559.8 323.0,561.4 277.4,730.7 273.2,728.7" fill="#6e482f"/>
<polygon points="321.9,560.8 324.8,562.4 279.9,731.9 275.8,730.0" fill="#6f462c"/>
<polygon points="323.7,561.8 326.6,563.5 282.5,733.2 278.4,731.2" fill="#704429"/>
<polygon points="325.5,562.8 328.4,564.5 285.1,734.4 281.0,732.4" fill="#714328"/>
<polygon points="327.3,563.9 330.2,565.5 287.7,735.6 283.5,733.7" fill="#724127"/>
<polygon points="329.1,564.9 332.0,566.5 290.2,736.9 286.1,734.9" fill="#744025"/>
<polygon points="330.9,565.9 333.8,567.5 292.8,738.1 288.7,736.1" fill="#753f24"/>
<polygon points="332.7,566.9 335.6,568.5 295.4,739.3 291.3,737.4" fill="#763d23"/>
<polygon points="334.5,567.9 337.4,569.6 298.0,740.6 293.9,738.6" fill="#773c22"/>
<polygon points="336.3,569.0 339.2,570.6 300.6,741.8 296.4,739.8" fill="#783b21"/>
<polygon points="338.1,570.0 341.0,571.6 303.1,743.0 299.0,741.1" fill="#79391f"/>
<polygon points="339.9,571.0 342.8,572.6 305.7,744.3 301.6,742.3" fill="#76371e"/>
<polygon points="341.7,572.0 344.6,573.6 308.3,745.5 304.2,743.5" fill="#72351c"/>
<polygon points="343.5,573.0 346.4,574.6 310.9,746.7 306.7,744.8" fill="#6f331b"/>
<polygon points="345.3,574.0 348.2,575.7 313.4,748.0 309.3,746.0" fill="#6b3019"/>
<polygon points="347.1,575.1 350.0,576.7 316.0,749.2 311.9,747.2" fill="#682e18"/>
<polygon points="348.9,576.1 351.8,577.7 318.6,750.4 314.5,748.5" fill="#642c16"/>
<polygon points="350.7,577.1 353.6,578.7 321.2,751.7 317.1,749.7" fill="#612a15"/>
<polygon points="352.5,578.1 355.3,579.7 323.8,752.9 319.6,750.9" fill="#5e2814"/>
<polygon points="354.3,579.1 357.1,580.8 326.3,754.1 322.2,752.2" fill="#572412"/>
<polygon points="356.1,580.1 358.9,581.8 328.9,755.4 324.8,753.4" fill="#502110"/>
<polygon points="357.9,581.2 360.7,582.8 331.5,756.6 327.4,754.6" fill="#491e0f"/>
<polygon points="359.7,582.2 362.5,583.8 334.1,757.8 329.9,755.8" fill="#421b0d"/>
<polygon points="361.5,583.2 364.3,584.8 336.6,759.1 332.5,757.1" fill="#3b180c"/>
<polygon points="363.3,584.2 366.1,585.8 339.2,760.3 335.1,758.3" fill="#34150a"/>
<polygon points="365.0,585.2 367.9,586.9 341.8,761.5 337.7,759.5" fill="#2e1209"/>
<polygon points="366.8,586.2 369.7,587.9 344.4,762.7 340.3,760.8" fill="#280f07"/>
<polygon points="368.6,587.3 371.5,588.9 347.0,764.0 342.8,762.0" fill="#230d06"/>
<polygon points="370.4,588.3 373.3,589.9 349.5,765.2 345.4,763.2" fill="#1e0b05"/>
<polygon points="372.2,589.3 375.1,590.9 352.1,766.4 348.0,764.5" fill="#190904"/>
<polygon points="374.0,590.3 376.9,591.9 354.7,767.7 350.6,765.7" fill="#140603"/>
<polygon points="375.8,591.3 378.7,593.0 357.3,768.9 353.1,766.9" fill="#0f0402"/>
<polygon points="377.6,592.4 379.4,593.4 358.3,769.4 355.7,768.2" fill="#0b0302"/></g>
<polygon points="289.4,542.5 287.9,546.6 286.4,550.8 285.2,554.9 283.4,559.0 281.9,563.2 280.4,567.3 279.1,571.4 277.4,575.6 276.3,579.7 275.0,583.8 272.8,588.0 271.6,592.1 270.1,596.2 268.5,600.4 267.9,604.5 265.4,608.6 263.8,612.8 262.9,616.9 261.2,621.0 259.3,625.1 257.8,629.3 256.3,633.4 255.6,637.5 253.5,641.7 251.8,645.8 250.5,649.9 249.1,654.1 248.4,658.2 247.1,662.3 244.9,666.5 242.8,670.6 242.0,674.7 241.1,678.9 238.4,683.0 237.4,687.1 236.4,691.3 234.8,695.4 232.5,699.5 231.5,703.7 230.2,707.8 226.4,707.8 227.9,703.7 229.4,699.5 230.9,695.4 232.4,691.3 233.9,687.1 235.4,683.0 236.9,678.9 238.4,674.7 239.9,670.6 241.4,666.5 243.0,662.3 244.5,658.2 246.0,654.1 247.5,649.9 249.0,645.8 250.5,641.7 252.0,637.5 253.5,633.4 255.0,629.3 256.5,625.1 258.0,621.0 259.5,616.9 261.0,612.8 262.5,608.6 264.0,604.5 265.5,600.4 267.0,596.2 268.5,592.1 270.0,588.0 271.6,583.8 273.1,579.7 274.6,575.6 276.1,571.4 277.6,567.3 279.1,563.2 280.6,559.0 282.1,554.9 283.6,550.8 285.1,546.6 286.6,542.5" fill="#fbf9f7" fill-opacity="1.00" filter="url(#b1)"/>
<ellipse cx="260.6" cy="629.5" rx="3" ry="6.5" fill="#f8f6f4" transform="rotate(20 260.6 629.5)" filter="url(#b1)"/>
<ellipse cx="256.4" cy="636" rx="1.8" ry="6" fill="#5e5852" transform="rotate(18 256.4 636)" filter="url(#b1)"/>
<g filter="url(#b1)">
<line x1="210.4" y1="568.3" x2="340.8" y2="598.2" stroke="#5266b8" stroke-width="2.40" stroke-dasharray="20 8.4"/>
<line x1="194.3" y1="619.1" x2="323.1" y2="651.3" stroke="#160c08" stroke-width="2.60" stroke-dasharray="18 6.7"/>
<polygon points="228.1,590.1 305.4,606.2 286.1,685.1 210.4,665.8" fill="none" stroke="#e3202e" stroke-width="2" stroke-dasharray="6.5 4"/>
</g>
<line x1="164.4" y1="531.6" x2="235.4" y2="610.2" stroke="#000" stroke-width="3.30" /><polygon points="245.8,621.7 228.0,614.2 240.2,603.2" fill="#000" />
<text x="85.6" y="521.8" font-size="29.3" textLength="172.0" lengthAdjust="spacingAndGlyphs" >Micro defect</text>
<text x="386.8" y="705.8" font-size="15.3" textLength="51.5" lengthAdjust="spacingAndGlyphs" transform="rotate(-90 386.8 705.8)" >Y* 2 µm</text>
<text x="206.8" y="768.8" font-size="15.0" textLength="52.0" lengthAdjust="spacingAndGlyphs" >X* 2 µm</text>
<text x="80.8" y="675.2" font-size="14.4" textLength="36.3" lengthAdjust="spacingAndGlyphs" >583 n</text>
<text x="80.2" y="730.6" font-size="14.4" textLength="43.8" lengthAdjust="spacingAndGlyphs" >−735 n</text>
<text x="463.4" y="703.0" font-size="14.2" textLength="112.5" lengthAdjust="spacingAndGlyphs" transform="rotate(-90 463.4 703.0)" >Mean fit 1.32  µm</text>
<polygon points="189.5,912.9 398.7,956.3 384.2,993.4 244.2,927.4 192.7,932.2" fill="#e6e6e8" />
<line x1="189.7" y1="914.2" x2="397.8" y2="958.8" stroke="#fff" stroke-width="0.70" stroke-opacity="0.55"/>
<line x1="189.9" y1="915.5" x2="396.8" y2="961.3" stroke="#fff" stroke-width="0.70" stroke-opacity="0.55"/>
<line x1="190.1" y1="916.7" x2="395.8" y2="963.7" stroke="#fff" stroke-width="0.70" stroke-opacity="0.55"/>
<line x1="190.3" y1="918.0" x2="394.9" y2="966.2" stroke="#fff" stroke-width="0.70" stroke-opacity="0.55"/>
<line x1="190.5" y1="919.3" x2="393.9" y2="968.7" stroke="#fff" stroke-width="0.70" stroke-opacity="0.55"/>
<line x1="190.8" y1="920.6" x2="392.9" y2="971.2" stroke="#fff" stroke-width="0.70" stroke-opacity="0.55"/>
<line x1="191.0" y1="921.9" x2="392.0" y2="973.6" stroke="#fff" stroke-width="0.70" stroke-opacity="0.55"/>
<line x1="191.2" y1="923.2" x2="391.0" y2="976.1" stroke="#fff" stroke-width="0.70" stroke-opacity="0.55"/>
<line x1="191.4" y1="924.5" x2="390.0" y2="978.6" stroke="#fff" stroke-width="0.70" stroke-opacity="0.55"/>
<line x1="191.6" y1="925.8" x2="389.1" y2="981.0" stroke="#fff" stroke-width="0.70" stroke-opacity="0.55"/>
<line x1="191.8" y1="927.0" x2="388.1" y2="983.5" stroke="#fff" stroke-width="0.70" stroke-opacity="0.55"/>
<line x1="192.0" y1="928.3" x2="387.1" y2="986.0" stroke="#fff" stroke-width="0.70" stroke-opacity="0.55"/>
<line x1="192.3" y1="929.6" x2="386.2" y2="988.4" stroke="#fff" stroke-width="0.70" stroke-opacity="0.55"/>
<line x1="192.5" y1="930.9" x2="385.2" y2="990.9" stroke="#fff" stroke-width="0.70" stroke-opacity="0.55"/>
<line x1="215.6" y1="918.3" x2="216.6" y2="939.8" stroke="#fff" stroke-width="0.80" stroke-opacity="0.60"/>
<line x1="241.8" y1="923.7" x2="240.6" y2="947.5" stroke="#fff" stroke-width="0.80" stroke-opacity="0.60"/>
<line x1="267.9" y1="929.2" x2="264.5" y2="955.1" stroke="#fff" stroke-width="0.80" stroke-opacity="0.60"/>
<line x1="294.1" y1="934.6" x2="288.5" y2="962.8" stroke="#fff" stroke-width="0.80" stroke-opacity="0.60"/>
<line x1="320.3" y1="940.0" x2="312.4" y2="970.4" stroke="#fff" stroke-width="0.80" stroke-opacity="0.60"/>
<line x1="346.4" y1="945.5" x2="336.4" y2="978.1" stroke="#fff" stroke-width="0.80" stroke-opacity="0.60"/>
<line x1="372.6" y1="950.9" x2="360.3" y2="985.7" stroke="#fff" stroke-width="0.80" stroke-opacity="0.60"/>
<polygon points="189.5,912.9 192.7,932.2 120.2,1110.9 109.9,1093.3" fill="#efeff0" />
<polygon points="120.2,1110.9 208.8,1122.2 353.7,1176.9 352.4,1182.7 122.6,1122.7" fill="#e4e4e6" />
<line x1="140.3" y1="1127.3" x2="137.5" y2="1105.6" stroke="#fff" stroke-width="0.80" stroke-opacity="0.80"/>
<line x1="158.0" y1="1131.9" x2="156.3" y2="1108.3" stroke="#fff" stroke-width="0.80" stroke-opacity="0.80"/>
<line x1="175.6" y1="1136.5" x2="175.1" y2="1111.0" stroke="#fff" stroke-width="0.80" stroke-opacity="0.80"/>
<line x1="193.3" y1="1141.2" x2="193.9" y2="1113.7" stroke="#fff" stroke-width="0.80" stroke-opacity="0.80"/>
<line x1="211.0" y1="1145.8" x2="212.7" y2="1116.5" stroke="#fff" stroke-width="0.80" stroke-opacity="0.80"/>
<line x1="228.7" y1="1150.4" x2="231.6" y2="1119.2" stroke="#fff" stroke-width="0.80" stroke-opacity="0.80"/>
<line x1="246.3" y1="1155.0" x2="250.4" y2="1121.9" stroke="#fff" stroke-width="0.80" stroke-opacity="0.80"/>
<line x1="264.0" y1="1159.6" x2="269.2" y2="1124.6" stroke="#fff" stroke-width="0.80" stroke-opacity="0.80"/>
<line x1="281.7" y1="1164.2" x2="288.0" y2="1127.4" stroke="#fff" stroke-width="0.80" stroke-opacity="0.80"/>
<line x1="299.4" y1="1168.8" x2="306.9" y2="1130.1" stroke="#fff" stroke-width="0.80" stroke-opacity="0.80"/>
<line x1="317.0" y1="1173.5" x2="325.7" y2="1132.8" stroke="#fff" stroke-width="0.80" stroke-opacity="0.80"/>
<line x1="334.7" y1="1178.1" x2="344.5" y2="1135.5" stroke="#fff" stroke-width="0.80" stroke-opacity="0.80"/>
<line x1="122.6" y1="1122.7" x2="352.4" y2="1182.7" stroke="#6a6a6a" stroke-width="1.80" />
<polyline points="105.5,1092.2 109.9,1093.3 122.6,1122.7" fill="none" stroke="#707070" stroke-width="1.8"/>
<g filter="url(#b1)"><polygon points="192.7,932.2 182.3,957.9 168.5,991.8 158.4,1016.8 148.3,1041.8 135.8,1072.4 120.2,1110.9 124.4,1111.4 139.5,1072.8 151.5,1042.0 161.5,1016.9 171.5,991.8 185.0,957.7 194.8,931.6" fill="#6d3c1f"/>
<polygon points="194.0,931.8 184.0,957.8 170.4,991.8 160.3,1016.8 150.3,1041.9 138.1,1072.6 122.9,1111.2 127.0,1111.7 141.7,1073.0 153.5,1042.2 163.4,1017.0 173.4,991.8 186.7,957.6 196.1,931.3" fill="#734122"/>
<polygon points="195.3,931.5 185.7,957.7 172.3,991.8 162.2,1016.9 152.3,1042.1 140.4,1072.8 125.5,1111.5 129.6,1112.1 144.0,1073.2 155.5,1042.3 165.3,1017.0 175.3,991.8 188.4,957.6 197.5,930.9" fill="#794524"/>
<polygon points="196.7,931.1 187.4,957.6 174.1,991.8 164.2,1017.0 154.3,1042.2 142.6,1073.1 128.1,1111.9 132.3,1112.4 146.3,1073.4 157.6,1042.4 167.2,1017.1 177.1,991.8 190.1,957.5 198.9,930.7" fill="#7c4826"/>
<polygon points="198.0,930.8 189.1,957.5 176.0,991.8 166.1,1017.1 156.3,1042.4 144.9,1073.3 130.7,1112.2 134.9,1112.7 148.5,1073.6 159.6,1042.6 169.2,1017.2 179.0,991.8 191.8,957.4 200.5,930.6" fill="#7d4927"/>
<polygon points="199.6,930.7 190.8,957.4 177.9,991.8 168.0,1017.1 158.4,1042.5 147.2,1073.5 133.3,1112.5 137.5,1113.0 150.8,1073.9 161.6,1042.7 171.1,1017.3 180.9,991.8 193.5,957.3 202.1,930.5" fill="#7d4a27"/>
<polygon points="201.1,930.5 192.5,957.3 179.7,991.8 169.9,1017.2 160.4,1042.6 149.4,1073.7 135.9,1112.8 140.1,1113.4 153.0,1074.1 163.6,1042.9 173.0,1017.3 182.7,991.8 195.2,957.2 203.6,930.3" fill="#7e4b28"/>
<polygon points="202.7,930.4 194.2,957.3 181.6,991.8 171.9,1017.3 162.4,1042.8 151.7,1074.0 138.5,1113.2 142.7,1113.7 155.3,1074.3 165.6,1043.0 174.9,1017.4 184.6,991.8 196.9,957.1 205.2,930.2" fill="#7f4c29"/>
<polygon points="204.3,930.3 195.9,957.2 183.5,991.8 173.8,1017.4 164.4,1042.9 154.0,1074.2 141.1,1113.5 145.3,1114.0 157.6,1074.5 167.7,1043.1 176.9,1017.5 186.5,991.8 198.6,957.0 206.8,930.1" fill="#7f4c29"/>
<polygon points="205.8,930.2 197.6,957.1 185.3,991.8 175.7,1017.4 166.5,1043.1 156.2,1074.4 143.7,1113.8 147.9,1114.3 159.8,1074.8 169.7,1043.3 178.8,1017.6 188.3,991.8 200.3,957.0 208.3,930.0" fill="#804d2a"/>
<polygon points="207.4,930.0 199.3,957.0 187.2,991.8 177.6,1017.5 168.5,1043.2 158.5,1074.6 146.3,1114.2 150.5,1114.7 162.1,1075.0 171.7,1043.4 180.7,1017.6 190.2,991.8 202.0,956.9 209.9,929.8" fill="#814e2b"/>
<polygon points="209.0,929.9 201.0,956.9 189.1,991.8 179.6,1017.6 170.5,1043.3 160.7,1074.9 149.0,1114.5 153.1,1115.0 164.4,1075.2 173.7,1043.6 182.6,1017.7 192.1,991.8 203.7,956.8 211.5,929.7" fill="#814f2b"/>
<polygon points="210.5,929.8 202.7,956.8 190.9,991.8 181.5,1017.7 172.5,1043.5 163.0,1075.1 151.6,1114.8 155.7,1115.3 166.6,1075.4 175.8,1043.7 184.6,1017.8 193.9,991.9 205.5,956.7 213.0,929.6" fill="#81502d"/>
<polygon points="212.1,929.7 204.4,956.8 192.8,991.9 183.4,1017.7 174.5,1043.6 165.3,1075.3 154.2,1115.1 158.4,1115.7 168.9,1075.7 177.8,1043.9 186.5,1017.9 195.8,991.9 207.2,956.6 214.6,929.5" fill="#81512f"/>
<polygon points="213.7,929.5 206.1,956.7 194.7,991.9 185.3,1017.8 176.6,1043.8 167.5,1075.5 156.8,1115.5 161.0,1116.0 171.2,1075.9 179.8,1044.0 188.4,1017.9 197.7,991.9 208.9,956.5 216.2,929.3" fill="#805331"/>
<polygon points="215.2,929.4 207.8,956.6 196.5,991.9 187.3,1017.9 178.6,1043.9 169.8,1075.8 159.4,1115.8 163.6,1116.3 173.4,1076.1 181.8,1044.1 190.3,1018.0 199.5,991.9 210.6,956.5 217.7,929.2" fill="#805433"/>
<polygon points="216.8,929.3 209.5,956.5 198.4,991.9 189.2,1018.0 180.6,1044.1 172.1,1076.0 162.0,1116.1 166.2,1116.6 175.7,1076.3 183.8,1044.3 192.3,1018.1 201.4,991.9 212.3,956.4 219.3,929.1" fill="#7f5535"/>
<polygon points="218.4,929.2 211.2,956.4 200.3,991.9 191.1,1018.0 182.6,1044.2 174.3,1076.2 164.6,1116.4 168.8,1117.0 177.9,1076.6 185.9,1044.4 194.2,1018.2 203.3,991.9 214.0,956.3 220.9,929.0" fill="#7f5637"/>
<polygon points="219.9,929.0 212.9,956.3 202.1,991.9 193.0,1018.1 184.6,1044.3 176.6,1076.4 167.2,1116.8 171.4,1117.3 180.2,1076.8 187.9,1044.6 196.1,1018.2 205.1,991.9 215.7,956.2 222.4,928.8" fill="#7e5839"/>
<polygon points="221.5,928.9 214.6,956.3 204.0,991.9 194.9,1018.2 186.7,1044.5 178.9,1076.6 169.8,1117.1 174.0,1117.6 182.5,1077.0 189.9,1044.7 198.0,1018.3 207.0,991.9 217.4,956.1 224.0,928.7" fill="#7e593b"/>
<polygon points="223.1,928.8 216.4,956.2 205.9,991.9 196.9,1018.3 188.7,1044.6 181.1,1076.9 172.5,1117.4 176.6,1117.9 184.7,1077.2 191.9,1044.8 199.9,1018.4 208.9,991.9 219.1,956.0 225.6,928.6" fill="#7d5a3d"/>
<polygon points="224.6,928.6 218.1,956.1 207.7,991.9 198.8,1018.3 190.7,1044.8 183.4,1077.1 175.1,1117.7 179.2,1118.3 187.0,1077.5 194.0,1045.0 201.9,1018.5 210.7,991.9 220.8,956.0 227.1,928.4" fill="#7c5b3f"/>
<polygon points="226.2,928.5 219.8,956.0 209.6,991.9 200.7,1018.4 192.7,1044.9 185.6,1077.3 177.7,1118.1 181.9,1118.6 189.3,1077.7 196.0,1045.1 203.8,1018.5 212.6,991.9 222.5,955.9 228.7,928.3" fill="#7c5c42"/>
<polygon points="227.8,928.4 221.5,955.9 211.5,991.9 202.6,1018.5 194.8,1045.0 187.9,1077.5 180.3,1118.4 184.5,1118.9 191.5,1077.9 198.0,1045.3 205.7,1018.6 214.5,991.9 224.2,955.8 230.3,928.2" fill="#7b5d45"/>
<polygon points="229.3,928.3 223.2,955.8 213.3,991.9 204.6,1018.6 196.8,1045.2 190.2,1077.8 182.9,1118.7 187.1,1119.3 193.8,1078.1 200.0,1045.4 207.6,1018.7 216.3,991.9 225.9,955.7 231.8,928.1" fill="#7a5d47"/>
<polygon points="230.9,928.1 224.9,955.8 215.2,991.9 206.5,1018.6 198.8,1045.3 192.4,1078.0 185.5,1119.1 189.7,1119.6 196.1,1078.3 202.0,1045.6 209.6,1018.8 218.2,991.9 227.6,955.6 233.4,927.9" fill="#7a5e4a"/>
<polygon points="232.5,928.0 226.6,955.7 217.1,991.9 208.4,1018.7 200.8,1045.5 194.7,1078.2 188.1,1119.4 192.3,1119.9 198.3,1078.6 204.1,1045.7 211.5,1018.8 220.1,992.0 229.3,955.5 235.0,927.8" fill="#795f4c"/>
<polygon points="234.0,927.9 228.3,955.6 218.9,992.0 210.3,1018.8 202.8,1045.6 197.0,1078.4 190.7,1119.7 194.9,1120.2 200.6,1078.8 206.1,1045.8 213.4,1018.9 221.9,992.0 231.0,955.5 236.5,927.7" fill="#785f4e"/>
<polygon points="235.6,927.8 230.0,955.5 220.8,992.0 212.3,1018.9 204.9,1045.8 199.2,1078.7 193.3,1120.0 197.5,1120.6 202.8,1079.0 208.1,1046.0 215.3,1019.0 223.8,992.0 232.7,955.4 238.1,927.6" fill="#765f4e"/>
<polygon points="237.2,927.6 231.7,955.4 222.7,992.0 214.2,1018.9 206.9,1045.9 201.5,1078.9 195.9,1120.4 200.1,1120.9 205.1,1079.2 210.1,1046.1 217.3,1019.0 225.7,992.0 234.4,955.3 239.7,927.4" fill="#745e4f"/>
<polygon points="238.7,927.5 233.4,955.3 224.5,992.0 216.1,1019.0 208.9,1046.0 203.7,1079.1 198.6,1120.7 202.7,1121.2 207.4,1079.5 212.1,1046.3 219.2,1019.1 227.5,992.0 236.1,955.2 241.2,927.3" fill="#725d4f"/>
<polygon points="240.3,927.4 235.1,955.3 226.4,992.0 218.0,1019.1 210.9,1046.2 206.0,1079.3 201.2,1121.0 205.3,1121.5 209.6,1079.7 214.2,1046.4 221.1,1019.2 229.4,992.0 237.8,955.1 242.8,927.2" fill="#705d4f"/>
<polygon points="241.9,927.3 236.8,955.2 228.3,992.0 220.0,1019.2 213.0,1046.3 208.3,1079.6 203.8,1121.3 208.0,1121.9 211.9,1079.9 216.2,1046.5 223.0,1019.3 231.3,992.0 239.5,955.0 244.4,927.1" fill="#706155"/>
<polygon points="243.4,927.1 238.5,955.1 230.1,992.0 221.9,1019.2 215.0,1046.5 210.5,1079.8 206.4,1121.7 210.3,1122.5 214.1,1080.5 218.3,1047.1 225.1,1019.9 233.3,992.6 241.5,955.6 246.3,927.6" fill="#746960"/>
<polygon points="245.0,927.0 240.2,955.0 232.0,992.0 223.8,1019.3 217.0,1046.6 212.8,1080.0 209.0,1122.0 212.5,1123.3 216.4,1081.4 220.6,1048.0 227.3,1020.8 235.4,993.5 243.6,956.6 248.4,928.6" fill="#e6ded8"/>
<polygon points="247.1,928.0 242.3,956.0 234.2,992.9 226.0,1020.2 219.2,1047.5 215.0,1080.9 211.2,1122.8 214.7,1124.2 218.6,1082.3 222.8,1048.9 229.6,1021.7 237.6,994.5 245.7,957.5 250.5,929.6" fill="#faf3ec"/>
<polygon points="249.2,929.0 244.4,957.0 236.3,993.9 228.2,1021.1 221.5,1048.4 217.3,1081.7 213.4,1123.7 216.9,1125.0 220.8,1083.1 225.1,1049.8 231.8,1022.6 239.7,995.4 247.8,958.5 252.6,930.6" fill="#fef5ec"/>
<polygon points="251.3,930.0 246.5,957.9 238.5,994.8 230.4,1022.1 223.7,1049.3 219.5,1082.6 215.6,1124.5 219.1,1125.8 223.1,1084.0 227.3,1050.7 234.0,1023.5 241.9,996.4 249.9,959.5 254.7,931.6" fill="#fef1e4"/>
<polygon points="253.4,931.0 248.7,958.9 240.6,995.8 232.6,1023.0 226.0,1050.2 221.7,1083.5 217.8,1125.3 221.3,1126.7 225.3,1084.9 229.6,1051.6 236.2,1024.5 244.1,997.3 252.0,960.5 256.8,932.6" fill="#feeddb"/>
<polygon points="255.5,932.0 250.8,959.9 242.8,996.7 234.9,1023.9 228.2,1051.1 224.0,1084.3 220.0,1126.2 223.5,1127.5 227.5,1085.7 231.8,1052.5 238.4,1025.4 246.2,998.3 254.2,961.5 258.9,933.6" fill="#fde8d3"/>
<polygon points="257.7,933.0 252.9,960.9 244.9,997.7 237.1,1024.8 230.5,1052.0 226.2,1085.2 222.2,1127.0 225.7,1128.3 229.8,1086.6 234.1,1053.4 240.6,1026.3 248.4,999.2 256.3,962.5 261.0,934.6" fill="#fde4cb"/>
<polygon points="259.8,934.0 255.0,961.9 247.1,998.6 239.3,1025.8 232.7,1052.9 228.4,1086.1 224.3,1127.8 227.9,1129.2 232.0,1087.5 236.3,1054.3 242.8,1027.2 250.5,1000.1 258.4,963.4 263.1,935.6" fill="#fce0c4"/>
<polygon points="261.9,935.0 257.1,962.8 249.2,999.6 241.5,1026.7 235.0,1053.8 230.7,1087.0 226.5,1128.7 230.0,1130.0 234.2,1088.3 238.6,1055.2 245.0,1028.2 252.7,1001.1 260.5,964.4 265.3,936.7" fill="#fcdcbd"/>
<polygon points="264.0,936.1 259.2,963.8 251.4,1000.5 243.7,1027.6 237.2,1054.7 232.9,1087.8 228.7,1129.5 232.2,1130.8 236.5,1089.2 240.8,1056.1 247.2,1029.1 254.8,1002.0 262.6,965.4 267.4,937.7" fill="#fcd8b5"/>
<polygon points="266.1,937.1 261.4,964.8 253.5,1001.5 245.9,1028.5 239.5,1055.6 235.1,1088.7 230.9,1130.3 234.4,1131.6 238.7,1090.1 243.1,1057.0 249.5,1030.0 257.0,1003.0 264.7,966.4 269.5,938.7" fill="#fbd4ae"/>
<polygon points="268.2,938.1 263.5,965.8 255.7,1002.4 248.1,1029.5 241.7,1056.5 237.4,1089.6 233.1,1131.1 236.6,1132.5 240.9,1090.9 245.3,1057.9 251.7,1030.9 259.1,1003.9 266.9,967.4 271.6,939.7" fill="#fbd0a7"/>
<polygon points="270.3,939.1 265.6,966.8 257.8,1003.4 250.3,1030.4 244.0,1057.4 239.6,1090.4 235.3,1132.0 238.8,1133.3 243.2,1091.8 247.6,1058.8 253.9,1031.9 261.3,1004.9 269.0,968.3 273.7,940.7" fill="#fbcca0"/>
<polygon points="272.4,940.1 267.7,967.7 260.0,1004.3 252.6,1031.3 246.2,1058.3 241.8,1091.3 237.5,1132.8 241.0,1134.1 245.4,1092.7 249.8,1059.7 256.1,1032.8 263.4,1005.8 271.1,969.3 275.8,941.7" fill="#fac697"/>
<polygon points="274.5,941.1 269.8,968.7 262.1,1005.3 254.8,1032.2 248.5,1059.2 244.1,1092.2 239.7,1133.6 243.2,1135.0 247.7,1093.6 252.1,1060.6 258.3,1033.7 265.6,1006.8 273.2,970.3 277.9,942.7" fill="#f9c18e"/>
<polygon points="276.6,942.1 271.9,969.7 264.3,1006.2 257.0,1033.1 250.7,1060.1 246.3,1093.0 241.9,1134.5 245.4,1135.8 249.9,1094.4 254.3,1061.5 260.5,1034.6 267.7,1007.7 275.3,971.3 280.0,943.7" fill="#f8bc85"/>
<polygon points="278.8,943.1 274.1,970.7 266.4,1007.2 259.2,1034.1 253.0,1061.0 248.5,1093.9 244.1,1135.3 247.6,1136.6 252.1,1095.3 256.6,1062.4 262.7,1035.5 269.9,1008.7 277.4,972.3 282.1,944.7" fill="#f8b77d"/>
<polygon points="280.9,944.1 276.2,971.7 268.6,1008.1 261.4,1035.0 255.2,1061.9 250.8,1094.8 246.3,1136.1 249.8,1137.5 254.4,1096.2 258.8,1063.3 264.9,1036.5 272.0,1009.6 279.6,973.2 284.2,945.7" fill="#f7b274"/>
<polygon points="283.0,945.1 278.3,972.7 270.7,1009.1 263.6,1035.9 257.5,1062.8 253.0,1095.6 248.5,1137.0 252.0,1138.3 256.6,1097.0 261.1,1064.2 267.1,1037.4 274.2,1010.6 281.7,974.2 286.4,946.7" fill="#f6ad6c"/>
<polygon points="285.1,946.1 280.4,973.6 272.9,1010.0 265.8,1036.8 259.7,1063.7 255.2,1096.5 250.6,1137.8 254.2,1139.1 258.8,1097.9 263.3,1065.1 269.4,1038.3 276.3,1011.5 283.8,975.2 288.5,947.7" fill="#f5a965"/>
<polygon points="287.2,947.1 282.5,974.6 275.0,1011.0 268.0,1037.8 262.0,1064.6 257.5,1097.4 252.8,1138.6 256.3,1140.0 261.1,1098.8 265.6,1066.0 271.6,1039.2 278.5,1012.5 285.9,976.2 290.6,948.7" fill="#f4a55f"/>
<polygon points="289.3,948.1 284.6,975.6 277.2,1011.9 270.2,1038.7 264.2,1065.5 259.7,1098.2 255.0,1139.5 258.5,1140.8 263.3,1099.6 267.8,1066.9 273.8,1040.2 280.6,1013.4 288.0,977.2 292.7,949.7" fill="#f4a158"/>
<polygon points="291.4,949.1 286.8,976.6 279.4,1012.8 272.5,1039.6 266.5,1066.4 262.0,1099.1 257.2,1140.3 260.7,1141.6 265.5,1100.5 270.1,1067.8 276.0,1041.1 282.8,1014.4 290.1,978.1 294.8,950.7" fill="#f39d52"/>
<polygon points="293.5,950.1 288.9,977.6 281.5,1013.8 274.7,1040.5 268.7,1067.3 264.2,1100.0 259.4,1141.1 262.9,1142.5 267.8,1101.4 272.3,1068.7 278.2,1042.0 284.9,1015.3 292.3,979.1 296.9,951.7" fill="#f2994b"/>
<polygon points="295.6,951.1 291.0,978.5 283.7,1014.7 276.9,1041.5 271.0,1068.2 266.4,1100.9 261.6,1142.0 265.1,1143.3 270.0,1102.2 274.6,1069.6 280.4,1042.9 287.1,1016.3 294.4,980.1 299.0,952.7" fill="#f19546"/>
<polygon points="297.7,952.1 293.1,979.5 285.8,1015.7 279.1,1042.4 273.2,1069.1 268.7,1101.7 263.8,1142.8 267.3,1144.1 272.2,1103.1 276.8,1070.5 282.6,1043.9 289.3,1017.2 296.5,981.1 301.1,953.7" fill="#f19242"/>
<polygon points="299.9,953.1 295.2,980.5 288.0,1016.6 281.3,1043.3 275.5,1070.0 270.9,1102.6 266.0,1143.6 269.5,1145.0 274.5,1104.0 279.1,1071.4 284.8,1044.8 291.4,1018.2 298.6,982.1 303.2,954.8" fill="#f08f3e"/>
<polygon points="302.0,954.2 297.3,981.5 290.1,1017.6 283.5,1044.2 277.7,1070.9 273.1,1103.5 268.2,1144.5 271.7,1145.8 276.7,1104.9 281.3,1072.3 287.1,1045.7 293.6,1019.1 300.7,983.0 305.3,955.8" fill="#ef8d3a"/>
<polygon points="304.1,955.2 299.4,982.5 292.3,1018.5 285.7,1045.1 280.0,1071.8 275.4,1104.3 270.4,1145.3 273.9,1146.6 278.9,1105.7 283.6,1073.2 289.3,1046.6 295.7,1020.0 302.8,984.0 307.5,956.8" fill="#ef8a36"/>
<polygon points="306.2,956.2 301.6,983.4 294.4,1019.5 287.9,1046.1 282.2,1072.7 277.6,1105.2 272.6,1146.1 276.1,1147.4 281.2,1106.6 285.8,1074.1 291.5,1047.6 297.9,1021.0 305.0,985.0 309.6,957.8" fill="#ee8732"/>
<polygon points="308.3,957.2 303.7,984.4 296.6,1020.4 290.2,1047.0 284.5,1073.6 279.8,1106.1 274.8,1146.9 278.3,1148.3 283.4,1107.5 288.1,1075.0 293.7,1048.5 300.0,1021.9 307.1,986.0 311.7,958.8" fill="#ed852e"/>
<polygon points="310.4,958.2 305.8,985.4 298.7,1021.4 292.4,1047.9 286.7,1074.5 282.1,1106.9 276.9,1147.8 280.5,1149.1 285.6,1108.3 290.3,1075.9 295.9,1049.4 302.2,1022.9 309.2,987.0 313.8,959.8" fill="#ed832c"/>
<polygon points="312.5,959.2 307.9,986.4 300.9,1022.3 294.6,1048.8 289.0,1075.4 284.3,1107.8 279.1,1148.6 282.6,1149.9 287.9,1109.2 292.6,1076.8 298.1,1050.3 304.3,1023.8 311.3,987.9 315.9,960.8" fill="#ec8129"/>
<polygon points="314.6,960.2 310.0,987.4 303.0,1023.3 296.8,1049.8 291.2,1076.3 286.5,1108.7 281.3,1149.4 284.8,1150.8 290.1,1110.1 294.8,1077.7 300.3,1051.2 306.5,1024.8 313.4,988.9 318.0,961.8" fill="#eb7f27"/>
<polygon points="316.7,961.2 312.1,988.3 305.2,1024.2 299.0,1050.7 293.5,1077.2 288.8,1109.5 283.5,1150.3 287.0,1151.6 292.3,1110.9 297.1,1078.6 302.5,1052.2 308.6,1025.7 315.5,989.9 320.1,962.8" fill="#eb7d24"/>
<polygon points="318.8,962.2 314.3,989.3 307.3,1025.2 301.2,1051.6 295.7,1078.1 291.0,1110.4 285.7,1151.1 289.2,1152.4 294.6,1111.8 299.3,1079.5 304.7,1053.1 310.8,1026.7 317.6,990.9 322.2,963.8" fill="#ea7b22"/>
<polygon points="321.0,963.2 316.4,990.3 309.5,1026.1 303.4,1052.5 298.0,1079.0 293.2,1111.3 287.9,1151.9 291.4,1153.3 296.8,1112.7 301.6,1080.4 307.0,1054.0 312.9,1027.6 319.8,991.9 324.3,964.8" fill="#ea7a20"/>
<polygon points="323.1,964.2 318.5,991.3 311.6,1027.1 305.6,1053.5 300.2,1079.9 295.5,1112.2 290.1,1152.8 293.6,1154.1 299.0,1113.5 303.8,1081.3 309.2,1054.9 315.1,1028.6 321.9,992.9 326.4,965.8" fill="#e9781e"/>
<polygon points="325.2,965.2 320.6,992.3 313.8,1028.0 307.8,1054.4 302.5,1080.8 297.7,1113.0 292.3,1153.6 295.8,1154.9 301.3,1114.4 306.1,1082.2 311.4,1055.9 317.2,1029.5 324.0,993.8 328.5,966.8" fill="#e8771d"/>
<polygon points="327.3,966.2 322.7,993.2 315.9,1029.0 310.1,1055.3 304.7,1081.7 299.9,1113.9 294.5,1154.4 298.0,1155.8 303.5,1115.3 308.3,1083.1 313.6,1056.8 319.4,1030.5 326.1,994.8 330.7,967.8" fill="#e7761c"/>
<polygon points="329.4,967.2 324.8,994.2 318.1,1029.9 312.3,1056.2 307.0,1082.6 302.2,1114.8 296.7,1155.3 300.2,1156.6 305.7,1116.2 310.6,1084.0 315.8,1057.7 321.5,1031.4 328.2,995.8 332.8,968.8" fill="#e6751b"/>
<polygon points="331.5,968.2 327.0,995.2 320.2,1030.9 314.5,1057.2 309.2,1083.5 304.4,1115.6 298.9,1156.1 302.4,1157.4 308.0,1117.0 312.8,1084.9 318.0,1058.6 323.7,1032.4 330.3,996.8 334.9,969.8" fill="#e5731a"/>
<polygon points="333.6,969.2 329.1,996.2 322.4,1031.8 316.7,1058.1 311.5,1084.4 306.6,1116.5 301.1,1156.9 304.6,1158.3 310.2,1117.9 315.1,1085.8 320.2,1059.6 325.8,1033.3 332.5,997.8 337.0,970.8" fill="#e47219"/>
<polygon points="335.7,970.2 331.2,997.2 324.6,1032.7 318.9,1059.0 313.7,1085.3 308.9,1117.4 303.3,1157.8 306.8,1159.1 312.4,1118.8 317.3,1086.7 322.4,1060.5 328.0,1034.3 334.6,998.7 339.1,971.8" fill="#e37118"/>
<polygon points="337.8,971.2 333.3,998.1 326.7,1033.7 321.1,1059.9 316.0,1086.1 311.1,1118.2 305.4,1158.6 308.9,1159.9 314.7,1119.6 319.6,1087.6 324.7,1061.4 330.1,1035.2 336.7,999.7 341.2,972.9" fill="#e26f17"/>
<polygon points="339.9,972.3 335.4,999.1 328.9,1034.6 323.3,1060.8 318.2,1087.0 313.3,1119.1 307.6,1159.4 311.1,1160.8 316.9,1120.5 321.8,1088.5 326.9,1062.3 332.3,1036.2 338.8,1000.7 343.3,973.9" fill="#e16e16"/>
<polygon points="342.1,973.3 337.5,1000.1 331.0,1035.6 325.5,1061.8 320.5,1087.9 315.6,1120.0 309.8,1160.3 313.3,1161.6 319.1,1121.4 324.1,1089.4 329.1,1063.2 334.5,1037.1 340.9,1001.7 345.4,974.9" fill="#e16d15"/>
<polygon points="344.2,974.3 339.7,1001.1 333.2,1036.5 327.8,1062.7 322.7,1088.8 317.8,1120.8 312.0,1161.1 315.5,1162.4 321.4,1122.2 326.3,1090.3 331.3,1064.2 336.6,1038.1 343.0,1002.7 347.5,975.9" fill="#e06c14"/>
<polygon points="346.3,975.3 341.8,1002.1 335.3,1037.5 330.0,1063.6 325.0,1089.7 320.0,1121.7 314.2,1161.9 317.7,1163.2 323.6,1123.1 328.6,1091.2 333.5,1065.1 338.8,1039.0 345.2,1003.6 349.6,976.9" fill="#dc6a14"/>
<polygon points="348.4,976.3 343.9,1003.0 337.5,1038.4 332.2,1064.5 327.2,1090.6 322.3,1122.6 316.4,1162.7 319.9,1164.1 325.8,1124.0 330.8,1092.1 335.7,1066.0 340.9,1039.9 347.3,1004.6 351.8,977.9" fill="#d76714"/>
<polygon points="350.5,977.3 346.0,1004.0 339.6,1039.4 334.4,1065.5 329.5,1091.5 324.5,1123.5 318.6,1163.6 322.1,1164.9 328.1,1124.8 333.1,1093.0 337.9,1066.9 343.1,1040.9 349.4,1005.6 353.9,978.9" fill="#d26515"/>
<polygon points="352.6,978.3 348.1,1005.0 341.8,1040.3 336.6,1066.4 331.7,1092.4 326.7,1124.3 320.8,1164.4 324.3,1165.7 330.3,1125.7 335.3,1093.9 340.1,1067.9 345.2,1041.8 351.5,1006.6 356.0,979.9" fill="#ce6315"/>
<polygon points="354.7,979.3 350.2,1006.0 343.9,1041.3 338.8,1067.3 334.0,1093.3 329.0,1125.2 323.0,1165.2 326.5,1166.6 332.5,1126.6 337.6,1094.8 342.3,1068.8 347.4,1042.8 353.6,1007.6 358.1,980.9" fill="#c75f16"/>
<polygon points="356.8,980.3 352.3,1007.0 346.1,1042.2 341.0,1068.2 336.2,1094.2 331.2,1126.1 325.2,1166.1 328.7,1167.4 334.8,1127.4 339.8,1095.7 344.6,1069.7 349.5,1043.7 355.7,1008.5 360.2,981.9" fill="#be5b17"/>
<polygon points="358.9,981.3 354.5,1008.0 348.2,1043.2 343.2,1069.2 338.5,1095.1 333.4,1126.9 327.4,1166.9 330.9,1168.2 337.0,1128.3 342.1,1096.6 346.8,1070.6 351.7,1044.7 357.9,1009.5 362.3,982.9" fill="#b55618"/>
<polygon points="361.0,982.3 356.6,1008.9 350.4,1044.1 345.4,1070.1 340.7,1096.0 335.7,1127.8 329.6,1167.7 333.1,1169.1 339.3,1129.2 344.3,1097.5 349.0,1071.6 353.8,1045.6 360.0,1010.5 364.4,983.9" fill="#ac5219"/>
<polygon points="363.2,983.3 358.7,1009.9 352.5,1045.1 347.7,1071.0 343.0,1096.9 337.9,1128.7 331.7,1168.6 335.3,1169.9 341.5,1130.1 346.6,1098.4 351.2,1072.5 356.0,1046.6 362.1,1011.5 366.5,984.9" fill="#a14c19"/>
<polygon points="365.3,984.3 360.8,1010.9 354.7,1046.0 349.9,1071.9 345.2,1097.8 340.1,1129.5 333.9,1169.4 337.4,1170.7 343.7,1130.9 348.8,1099.3 353.4,1073.4 358.1,1047.5 364.2,1012.5 368.6,985.9" fill="#934517"/>
<polygon points="367.4,985.3 362.9,1011.9 356.8,1047.0 352.1,1072.8 347.5,1098.7 342.4,1130.4 336.1,1170.2 339.6,1171.6 346.0,1131.8 351.1,1100.2 355.6,1074.3 360.3,1048.5 366.3,1013.4 370.7,986.9" fill="#863e15"/>
<polygon points="369.5,986.3 365.0,1012.9 359.0,1047.9 354.3,1073.8 349.7,1099.6 344.6,1131.3 338.3,1171.1 341.8,1172.4 348.2,1132.7 353.3,1101.1 357.8,1075.2 362.4,1049.4 368.4,1014.4 372.9,987.9" fill="#783713"/>
<polygon points="371.6,987.3 367.2,1013.8 361.1,1048.9 356.5,1074.7 352.0,1100.5 346.8,1132.1 340.5,1171.9 344.0,1173.2 350.4,1133.5 355.6,1102.0 360.0,1076.2 364.6,1050.4 370.5,1015.4 375.0,988.9" fill="#6b3012"/>
<polygon points="373.7,988.3 369.3,1014.8 363.3,1049.8 358.7,1075.6 354.2,1101.4 349.1,1133.0 342.7,1172.7 346.2,1174.1 352.7,1134.4 357.8,1102.9 362.3,1077.1 366.7,1051.3 372.7,1016.4 377.1,989.9" fill="#5e2a10"/>
<polygon points="375.8,989.3 371.4,1015.8 365.4,1050.7 360.9,1076.5 356.5,1102.3 351.3,1133.9 344.9,1173.6 348.4,1174.9 354.9,1135.3 360.1,1103.8 364.5,1078.0 368.9,1052.3 374.8,1017.4 379.2,991.0" fill="#52240e"/>
<polygon points="377.9,990.4 373.5,1016.8 367.6,1051.7 363.1,1077.5 358.7,1103.2 353.5,1134.7 347.1,1174.4 350.6,1175.7 357.1,1136.1 362.3,1104.7 366.7,1078.9 371.0,1053.2 376.9,1018.3 381.3,992.0" fill="#461f0c"/>
<polygon points="380.0,991.4 375.6,1017.8 369.7,1052.6 365.3,1078.4 361.0,1104.1 355.8,1135.6 349.3,1175.2 352.8,1176.6 359.4,1137.0 364.6,1105.6 368.9,1079.9 373.2,1054.2 379.0,1019.3 383.4,993.0" fill="#3b190a"/>
<polygon points="382.1,992.4 377.7,1018.7 371.9,1053.6 367.6,1079.3 363.2,1105.0 358.0,1136.5 351.5,1176.1 353.7,1176.9 360.3,1137.4 365.5,1105.9 369.8,1080.2 374.1,1054.5 379.9,1019.7 384.2,993.4" fill="#2f1408"/></g>
<clipPath id="clc"><polygon points="192.7,932.2 198.0,930.8 245.0,927.0 240.2,955.0 232.0,992.0 223.8,1019.3 217.0,1046.6 212.8,1080.0 209.0,1122.0 120.2,1110.9"/></clipPath>
<rect x="118" y="925" width="130" height="200" filter="url(#nz)" clip-path="url(#clc)"/>
<polygon points="150.0,1037.0 205.0,1030.0 222.0,1030.0 209.0,1122.0 121.0,1110.0" fill="#b0a69c" fill-opacity="0.3" filter="url(#b3)"/>
<polygon points="246.4,927.0 248.2,929.6 247.7,932.2 247.3,934.8 245.7,937.4 244.1,940.1 241.9,942.7 244.9,945.3 244.5,947.9 244.6,950.5 244.1,953.1 243.6,955.7 243.1,958.3 242.5,960.9 241.7,963.5 240.3,966.1 240.8,968.7 239.3,971.3 236.8,973.8 239.1,976.4 236.4,979.0 235.0,981.6 236.0,984.2 236.8,986.8 233.3,989.4 234.3,992.0 234.9,994.5 234.1,997.0 231.9,999.6 230.6,1002.1 228.4,1004.6 227.2,1007.2 227.3,1009.7 224.6,1012.3 226.1,1014.8 225.6,1017.3 223.5,1019.9 223.2,1022.5 221.5,1025.0 221.8,1027.6 221.0,1030.2 223.9,1032.7 223.4,1035.3 222.8,1037.9 222.1,1040.5 221.5,1043.0 220.8,1045.6 220.4,1048.2 219.9,1050.8 219.7,1053.5 219.4,1056.1 219.1,1058.7 218.7,1061.4 216.0,1064.0 215.3,1066.6 215.0,1069.2 217.1,1071.9 215.0,1074.5 216.8,1077.1 216.4,1079.8 212.9,1082.4 212.7,1085.0 213.0,1087.7 212.3,1090.3 210.9,1093.0 210.5,1095.6 213.1,1098.2 214.5,1100.9 214.3,1103.5 214.0,1106.2 213.8,1108.8 211.4,1111.4 209.4,1114.1 211.3,1116.7 210.4,1119.4 211.2,1122.0 214.8,1122.0 215.0,1119.4 215.3,1116.7 215.5,1114.1 215.8,1111.4 216.0,1108.8 216.2,1106.2 216.5,1103.5 216.7,1100.9 216.9,1098.2 217.2,1095.6 217.4,1093.0 217.7,1090.3 217.9,1087.7 218.1,1085.0 218.4,1082.4 218.6,1079.8 219.0,1077.1 219.3,1074.5 219.6,1071.9 220.0,1069.2 220.3,1066.6 220.6,1064.0 220.9,1061.4 221.3,1058.7 221.6,1056.1 221.9,1053.5 222.3,1050.8 222.6,1048.2 223.0,1045.6 223.7,1043.0 224.3,1040.5 225.0,1037.9 225.6,1035.3 226.3,1032.7 226.9,1030.2 227.5,1027.6 228.2,1025.0 228.8,1022.5 229.5,1019.9 230.2,1017.3 231.0,1014.8 231.7,1012.3 232.5,1009.7 233.2,1007.2 234.0,1004.6 234.8,1002.1 235.5,999.6 236.3,997.0 237.1,994.5 237.8,992.0 238.4,989.4 239.0,986.8 239.5,984.2 240.1,981.6 240.7,979.0 241.3,976.4 241.8,973.8 242.4,971.3 243.0,968.7 243.5,966.1 244.1,963.5 244.7,960.9 245.3,958.3 245.8,955.7 246.3,953.1 246.8,950.5 247.2,947.9 247.7,945.3 248.1,942.7 248.6,940.1 249.0,937.4 249.5,934.8 249.9,932.2 250.4,929.6 250.8,927.0" fill="#fff6ee" fill-opacity="1.00" filter="url(#b1)"/>
<g filter="url(#b1)">
<line x1="155.7" y1="1042.6" x2="295.7" y2="1064.2" stroke="#5266b8" stroke-width="2.40" stroke-dasharray="18 7"/>
<line x1="142.8" y1="1086.7" x2="282.8" y2="1110.9" stroke="#160c08" stroke-width="2.60" stroke-dasharray="18 6.7"/>
<polygon points="200.7,995.0 257.1,1004.6 247.4,1041.7 192.7,1032.0" fill="none" stroke="#e3202e" stroke-width="2" stroke-dasharray="6.5 4"/>
<polygon points="173.4,1065.8 255.5,1080.3 245.8,1130.2 168.5,1114.1" fill="none" stroke="#e3202e" stroke-width="2" stroke-dasharray="6.5 4"/>
</g>
<text x="387.5" y="1112.5" font-size="15.3" textLength="51.5" lengthAdjust="spacingAndGlyphs" transform="rotate(-90 387.5 1112.5)" >Y* 2 µm</text>
<text x="199.4" y="1174.6" font-size="15.0" textLength="52.0" lengthAdjust="spacingAndGlyphs" >X* 2 µm</text>
<text x="80.8" y="1086.3" font-size="14.4" textLength="36.3" lengthAdjust="spacingAndGlyphs" >578 n</text>
<text x="80.2" y="1134.3" font-size="14.4" textLength="43.8" lengthAdjust="spacingAndGlyphs" >−803 n</text>
<text x="463.4" y="1107.0" font-size="14.2" textLength="112.5" lengthAdjust="spacingAndGlyphs" transform="rotate(-90 463.4 1107.0)" >Mean fit 1.38  µm</text>
<line x1="79.5" x2="408" y1="644.6" y2="644.6" stroke="#ece6e0" stroke-opacity="0.6" stroke-width="0.8"/><line x1="79.5" x2="408" y1="1047.5" y2="1047.5" stroke="#ece6e0" stroke-opacity="0.6" stroke-width="0.8"/><line x1="79.5" x2="408" y1="1146.3" y2="1146.3" stroke="#ece6e0" stroke-opacity="0.6" stroke-width="0.8"/>
<rect x="593.7" y="47.3" width="423.3" height="331.3" fill="none" stroke="#5a5a5a" stroke-width="1.5"/>
<path d="M645.8 47.3v4.6M645.8 378.6v-4.6M699.1 47.3v4.6M699.1 378.6v-4.6M752.3 47.3v4.6M752.3 378.6v-4.6M805.5 47.3v4.6M805.5 378.6v-4.6M858.8 47.3v4.6M858.8 378.6v-4.6M912.0 47.3v4.6M912.0 378.6v-4.6M965.2 47.3v4.6M965.2 378.6v-4.6M593.7 373.0h4.6M1017.0 373.0h-4.6M593.7 320.0h4.6M1017.0 320.0h-4.6M593.7 267.0h4.6M1017.0 267.0h-4.6M593.7 214.1h4.6M1017.0 214.1h-4.6M593.7 161.1h4.6M1017.0 161.1h-4.6M593.7 108.2h4.6M1017.0 108.2h-4.6M593.7 55.2h4.6M1017.0 55.2h-4.6" stroke="#5a5a5a" stroke-width="1.2" fill="none"/>
<text x="644.3" y="404.0" font-size="25.3" text-anchor="middle">0.1</text>
<text x="750.8" y="404.0" font-size="25.3" text-anchor="middle">0.3</text>
<text x="857.2" y="404.0" font-size="25.3" text-anchor="middle">0.5</text>
<text x="963.7" y="404.0" font-size="25.3" text-anchor="middle">0.7</text>
<text x="588.7" y="65.6" font-size="25.3" text-anchor="end">0.5</text>
<text x="588.7" y="168.5" font-size="25.3" text-anchor="end">0.3</text>
<text x="588.7" y="273.8" font-size="25.3" text-anchor="end">0.1</text>
<text x="588.7" y="379.8" font-size="25.3" text-anchor="end">−0.1</text>
<text x="757.3" y="431.9" font-size="28"><tspan font-style="italic" font-size="31">X</tspan><tspan dx="7.5" font-size="28.7">[µm]</tspan></text>
<text x="539" y="251.3" font-size="28" transform="rotate(-90 539 251.3)"><tspan font-style="italic" font-size="31">Z</tspan><tspan dx="7.5" font-size="28.7">[µm]</tspan></text>
<circle cx="809.6" cy="103.6" r="21.2" fill="none" stroke="#e2333f" stroke-width="2.3"/>
<circle cx="802.3" cy="269.3" r="83.3" fill="none" stroke="#e2333f" stroke-width="2.2"/>
<path d="M592.9 259.5h.9M597.1 256.3h.9M601.3 252.6h.9M605.4 249.5h.9M609.6 246.2h.9M613.7 241.9h.9M617.9 237.9h.9M622.1 235.7h.9M626.2 231.9h.9M630.4 228.3h.9M634.5 226.1h.9M638.7 222.5h.9M642.9 219.7h.9M647.0 216.0h.9M651.2 212.7h.9M655.3 208.4h.9M659.5 205.4h.9M663.7 202.7h.9M667.8 199.0h.9M672.0 195.8h.9M676.1 192.3h.9M680.3 187.7h.9M684.5 184.7h.9M688.6 181.3h.9M692.8 177.3h.9M696.9 173.0h.9M701.1 170.6h.9M705.3 167.0h.9M709.4 163.9h.9M713.6 161.1h.9M717.7 157.8h.9M721.9 154.6h.9M726.1 150.2h.9M730.2 146.7h.9M734.4 142.5h.9M738.5 139.4h.9M742.7 135.9h.9M746.9 130.9h.9M751.0 126.5h.9M755.2 122.4h.9M759.3 119.4h.9M763.5 115.0h.9M767.7 111.1h.9M771.8 106.4h.9M776.0 101.4h.9M780.1 96.4h.9M784.3 92.6h.9M788.5 89.3h.9M792.6 87.0h.9M796.8 85.8h.9M800.9 84.5h.9M805.1 84.2h.9M809.3 84.1h.9M813.4 84.9h.9M817.6 84.9h.9M821.7 85.4h.9M825.9 88.0h.9M830.1 91.6h.9M834.2 94.9h.9M838.4 97.8h.9M842.5 101.1h.9M846.7 103.7h.9M850.9 107.8h.9M855.0 111.2h.9M859.2 114.2h.9M863.3 117.0h.9M867.5 121.5h.9M871.7 125.9h.9M875.8 128.4h.9M880.0 132.6h.9M884.1 135.8h.9M888.3 138.8h.9M892.5 142.2h.9M896.6 146.7h.9M900.8 151.2h.9M904.9 154.0h.9M909.1 158.2h.9M913.3 161.3h.9M917.4 165.9h.9M921.6 169.5h.9M925.7 174.2h.9M929.9 178.8h.9M934.1 182.2h.9M938.2 186.7h.9M942.4 189.7h.9M946.5 192.7h.9M950.7 196.9h.9M954.9 200.0h.9M959.0 203.7h.9M963.2 207.6h.9M967.3 211.8h.9M971.5 215.0h.9M975.7 218.1h.9M979.8 223.0h.9M984.0 226.4h.9M988.1 231.0h.9M992.3 235.5h.9M996.5 238.9h.9M1000.6 242.8h.9M1004.8 246.8h.9M1008.9 251.1h.9M1013.1 255.2h.9" fill="none" stroke="#3b49a6" stroke-width="3.2" stroke-linecap="round" filter="url(#b0)"/>
<path d="M603.8 341.8h.9M608.0 337.3h.9M612.2 333.8h.9M616.3 329.5h.9M620.5 325.3h.9M624.6 321.9h.9M628.8 316.2h.9M633.0 313.6h.9M637.1 310.7h.9M641.3 306.5h.9M645.4 303.3h.9M649.6 298.9h.9M653.8 294.4h.9M657.9 290.0h.9M662.1 286.0h.9M666.2 283.3h.9M670.4 279.9h.9M674.6 276.1h.9M678.7 272.2h.9M682.9 267.0h.9M687.0 262.6h.9M691.2 259.0h.9M695.4 255.5h.9M699.5 251.7h.9M703.7 247.8h.9M707.8 241.9h.9M712.0 237.8h.9M716.2 231.7h.9M720.3 225.6h.9M724.5 221.2h.9M728.6 217.7h.9M732.8 213.1h.9M737.0 210.6h.9M741.1 207.4h.9M745.3 203.2h.9M749.4 200.2h.9M753.6 199.0h.9M757.8 196.7h.9M761.9 195.1h.9M766.1 193.8h.9M770.2 192.0h.9M774.4 190.2h.9M778.6 189.1h.9M782.7 187.8h.9M786.9 186.6h.9M791.0 186.0h.9M795.2 186.6h.9M799.4 185.2h.9M803.5 184.8h.9M807.7 185.9h.9M811.8 185.9h.9M816.0 186.5h.9M820.2 187.9h.9M824.3 188.9h.9M828.5 191.5h.9M832.6 191.8h.9M836.8 193.4h.9M841.0 194.7h.9M845.1 197.2h.9M849.3 198.7h.9M853.4 200.9h.9M857.6 204.4h.9M861.8 206.7h.9M865.9 209.6h.9M870.1 213.6h.9M874.2 216.1h.9M878.4 219.0h.9M882.6 222.7h.9M886.7 227.6h.9M890.9 232.3h.9M895.0 236.1h.9M899.2 239.6h.9M903.4 242.8h.9M907.5 246.8h.9M911.7 249.7h.9M915.8 254.3h.9M920.0 259.0h.9M924.2 263.3h.9M928.3 267.0h.9M932.5 271.4h.9M936.6 273.5h.9M940.8 276.9h.9M945.0 282.0h.9M949.1 286.1h.9M953.3 289.4h.9M957.4 294.1h.9M961.6 297.5h.9M965.8 301.5h.9M969.9 304.1h.9M974.1 307.0h.9M978.2 312.0h.9M982.4 315.4h.9M986.6 316.8h.9M990.7 320.8h.9M994.9 325.7h.9M999.0 328.8h.9M1003.2 329.8h.9M1007.4 332.9h.9M593.1 318.8h.9" fill="none" stroke="#111" stroke-width="3.4" stroke-linecap="round" filter="url(#b0)"/>
<text x="829.0" y="77.0" font-size="33.5" font-style="italic">r</text><text x="841.5" y="83.9" font-size="19" font-style="italic">n</text>
<rect x="593.7" y="450.4" width="422.9" height="331.0" fill="none" stroke="#5a5a5a" stroke-width="1.5"/>
<path d="M639.8 450.4v4.6M639.8 781.4v-4.6M685.9 450.4v4.6M685.9 781.4v-4.6M732.0 450.4v4.6M732.0 781.4v-4.6M778.2 450.4v4.6M778.2 781.4v-4.6M824.4 450.4v4.6M824.4 781.4v-4.6M870.5 450.4v4.6M870.5 781.4v-4.6M916.6 450.4v4.6M916.6 781.4v-4.6M962.8 450.4v4.6M962.8 781.4v-4.6M1009.0 450.4v4.6M1009.0 781.4v-4.6M593.7 734.5h4.6M1016.6 734.5h-4.6M593.7 688.8h4.6M1016.6 688.8h-4.6M593.7 643.0h4.6M1016.6 643.0h-4.6M593.7 597.3h4.6M1016.6 597.3h-4.6M593.7 551.6h4.6M1016.6 551.6h-4.6M593.7 505.9h4.6M1016.6 505.9h-4.6M593.7 460.1h4.6M1016.6 460.1h-4.6" stroke="#5a5a5a" stroke-width="1.2" fill="none"/>
<text x="638.8" y="806.5" font-size="25.3" text-anchor="middle">0.1</text>
<text x="731.0" y="806.5" font-size="25.3" text-anchor="middle">0.3</text>
<text x="823.4" y="806.5" font-size="25.3" text-anchor="middle">0.5</text>
<text x="915.6" y="806.5" font-size="25.3" text-anchor="middle">0.7</text>
<text x="1008.5" y="806.5" font-size="25.3" text-anchor="middle">0.9</text>
<text x="588.7" y="468.3" font-size="25.3" text-anchor="end">0.6</text>
<text x="588.7" y="558.5" font-size="25.3" text-anchor="end">0.4</text>
<text x="588.7" y="650.2" font-size="25.3" text-anchor="end">0.2</text>
<text x="588.2" y="742.5" font-size="25.3" text-anchor="end">0</text>
<text x="757.3" y="834.2" font-size="28"><tspan font-style="italic" font-size="31">X</tspan><tspan dx="7.5" font-size="28.7">[µm]</tspan></text>
<text x="539" y="660.3" font-size="28" transform="rotate(-90 539 660.3)"><tspan font-style="italic" font-size="31">Z</tspan><tspan dx="7.5" font-size="28.7">[µm]</tspan></text>
<circle cx="809.2" cy="503.9" r="10.4" fill="none" stroke="#e2333f" stroke-width="2.3"/>
<circle cx="804.8" cy="576.9" r="12.0" fill="none" stroke="#e2333f" stroke-width="2.3"/>
<path d="M593.4 734.8h.9M597.0 730.9h.9M600.6 726.9h.9M604.2 723.0h.9M607.9 718.8h.9M611.5 714.8h.9M615.1 709.6h.9M618.7 705.4h.9M622.3 701.8h.9M625.9 697.6h.9M629.5 693.7h.9M633.1 688.7h.9M636.7 684.5h.9M640.3 680.0h.9M643.9 676.0h.9M647.5 672.1h.9M651.1 667.5h.9M654.7 663.4h.9M658.3 659.4h.9M661.9 656.1h.9M665.5 652.3h.9M669.1 647.7h.9M672.7 644.1h.9M676.3 639.6h.9M679.9 635.8h.9M683.5 631.3h.9M687.1 626.9h.9M690.7 623.6h.9M694.3 619.3h.9M697.9 615.1h.9M701.5 611.9h.9M705.1 608.2h.9M708.7 603.7h.9M712.3 600.2h.9M715.9 595.9h.9M719.5 592.0h.9M723.1 587.4h.9M726.7 583.9h.9M730.3 579.9h.9M733.9 576.3h.9M737.5 572.4h.9M741.1 567.7h.9M744.7 563.4h.9M748.3 558.9h.9M751.9 554.6h.9M755.5 549.9h.9M759.1 545.6h.9M762.7 541.7h.9M766.3 536.8h.9M769.9 532.9h.9M773.5 528.5h.9M777.1 524.0h.9M780.7 520.1h.9M784.3 515.7h.9M787.9 511.0h.9M791.5 506.7h.9M795.1 502.8h.9M798.7 498.8h.9M802.3 496.6h.9M805.9 494.6h.9M809.5 493.8h.9M813.1 495.1h.9M816.7 495.4h.9M820.3 497.0h.9M823.9 499.8h.9M827.5 503.3h.9M831.1 506.0h.9M834.7 509.0h.9M838.3 512.3h.9M841.9 516.6h.9M845.5 519.6h.9M849.1 523.4h.9M852.7 527.8h.9M856.3 531.9h.9M859.9 535.3h.9M863.5 538.8h.9M867.1 542.2h.9M870.7 545.6h.9M874.3 548.1h.9M877.9 551.7h.9M881.5 555.1h.9M885.1 558.5h.9M888.7 560.7h.9M892.3 564.5h.9M895.9 566.9h.9M899.5 569.9h.9M903.1 573.4h.9M906.7 577.2h.9M910.3 580.1h.9M913.9 583.9h.9M917.5 587.0h.9M921.1 589.9h.9M924.7 592.9h.9M928.3 595.9h.9M931.9 598.9h.9M935.5 602.1h.9M939.1 606.2h.9M942.7 610.4h.9M946.3 613.3h.9M949.9 616.4h.9M953.5 620.7h.9M957.1 624.2h.9M960.7 627.5h.9M964.3 630.7h.9M967.9 634.5h.9M971.5 638.4h.9M975.1 641.6h.9M978.7 644.8h.9M982.3 647.7h.9M985.9 651.8h.9M989.5 654.5h.9M993.1 658.1h.9M996.7 662.0h.9M1000.3 664.8h.9M1003.9 668.6h.9M1007.5 672.5h.9M1011.1 675.8h.9M1014.7 679.3h.9" fill="none" stroke="#3b49a6" stroke-width="3.1" stroke-linecap="round" filter="url(#b0)"/>
<path d="M661.8 733.1h.9M665.4 728.9h.9M669.0 724.1h.9M672.6 719.1h.9M676.2 713.9h.9M679.9 710.0h.9M683.5 705.6h.9M687.1 701.6h.9M690.7 696.8h.9M694.3 692.8h.9M697.9 687.9h.9M701.5 684.4h.9M705.1 680.7h.9M708.7 676.3h.9M712.3 672.3h.9M715.9 668.5h.9M719.5 663.9h.9M723.1 660.1h.9M726.7 656.7h.9M730.3 652.2h.9M733.9 648.7h.9M737.5 644.9h.9M741.1 641.3h.9M744.7 636.7h.9M748.3 632.0h.9M751.9 628.8h.9M755.5 625.5h.9M759.1 621.5h.9M762.7 617.0h.9M766.3 613.0h.9M769.9 609.8h.9M773.5 605.9h.9M777.1 603.1h.9M780.7 596.3h.9M784.3 592.2h.9M787.9 590.3h.9M791.5 588.2h.9M795.1 589.6h.9M798.7 591.1h.9M802.3 592.7h.9M805.9 593.1h.9M809.5 592.8h.9M813.1 590.9h.9M816.7 588.0h.9M820.3 582.3h.9M823.9 578.8h.9M827.5 577.4h.9M831.1 576.2h.9M834.7 577.8h.9M838.3 579.6h.9M841.9 583.9h.9M845.5 587.2h.9M849.1 589.9h.9M852.7 593.4h.9M856.3 596.2h.9M859.9 598.9h.9M863.5 602.2h.9M867.1 605.2h.9M870.7 608.7h.9M874.3 613.2h.9M877.9 617.1h.9M881.5 619.8h.9M885.1 624.0h.9M888.7 626.8h.9M892.3 630.3h.9M895.9 634.7h.9M899.5 638.2h.9M903.1 641.2h.9M906.7 644.4h.9M910.3 647.8h.9M913.9 650.7h.9M917.5 655.3h.9M921.1 657.8h.9M924.7 661.3h.9M928.3 665.2h.9M931.9 668.2h.9M935.5 672.3h.9M939.1 674.8h.9M942.7 678.8h.9M946.3 682.4h.9M949.9 685.5h.9M953.5 689.0h.9M957.1 691.7h.9M960.7 695.2h.9M964.3 698.8h.9M967.9 702.0h.9M971.5 705.3h.9M975.1 709.1h.9M978.7 712.4h.9M982.3 715.2h.9M985.9 719.5h.9M989.5 722.6h.9M993.1 726.0h.9M996.7 730.0h.9M1000.3 732.7h.9" fill="none" stroke="#111" stroke-width="3.3" stroke-linecap="round" filter="url(#b0)"/>
<text x="828.0" y="490.2" font-size="33.5" font-style="italic">r</text><text x="841.5" y="496.9" font-size="19" font-style="italic">n</text>
<rect x="593.3" y="856.5" width="423.7" height="330.8" fill="none" stroke="#5a5a5a" stroke-width="1.5"/>
<path d="M644.3 856.5v4.6M644.3 1187.3v-4.6M696.2 856.5v4.6M696.2 1187.3v-4.6M748.2 856.5v4.6M748.2 1187.3v-4.6M800.1 856.5v4.6M800.1 1187.3v-4.6M852.1 856.5v4.6M852.1 1187.3v-4.6M904.1 856.5v4.6M904.1 1187.3v-4.6M956.0 856.5v4.6M956.0 1187.3v-4.6M1008.0 856.5v4.6M1008.0 1187.3v-4.6M593.3 1143.0h4.6M1017.0 1143.0h-4.6M593.3 1091.4h4.6M1017.0 1091.4h-4.6M593.3 1039.9h4.6M1017.0 1039.9h-4.6M593.3 988.3h4.6M1017.0 988.3h-4.6M593.3 936.8h4.6M1017.0 936.8h-4.6M593.3 885.2h4.6M1017.0 885.2h-4.6" stroke="#5a5a5a" stroke-width="1.2" fill="none"/>
<text x="644.3" y="1211.4" font-size="25.3" text-anchor="middle">0.1</text>
<text x="748.2" y="1211.4" font-size="25.3" text-anchor="middle">0.3</text>
<text x="852.1" y="1211.4" font-size="25.3" text-anchor="middle">0.5</text>
<text x="956.0" y="1211.4" font-size="25.3" text-anchor="middle">0.7</text>
<text x="587.2" y="889.5" font-size="25.3" text-anchor="end">0.5</text>
<text x="587.2" y="941.5" font-size="25.3" text-anchor="end">0.4</text>
<text x="587.2" y="993.8" font-size="25.3" text-anchor="end">0.3</text>
<text x="587.2" y="1046.2" font-size="25.3" text-anchor="end">0.2</text>
<text x="587.2" y="1098.5" font-size="25.3" text-anchor="end">0.1</text>
<text x="587.5" y="1151.3" font-size="25.3" text-anchor="end">0</text>
<text x="757.3" y="1238.5" font-size="28"><tspan font-style="italic" font-size="31">X</tspan><tspan dx="7.5" font-size="28.7">[µm]</tspan></text>
<text x="539" y="1073.6" font-size="28" transform="rotate(-90 539 1073.6)"><tspan font-style="italic" font-size="31">Z</tspan><tspan dx="7.5" font-size="28.7">[µm]</tspan></text>
<circle cx="781.0" cy="905.4" r="10.7" fill="none" stroke="#e2333f" stroke-width="2.3"/>
<line x1="731.7" y1="972.6" x2="839.6" y2="979.9" stroke="#e2333f" stroke-width="2.00" />
<path d="M607.8 1049.0h.9M611.9 1045.3h.9M616.0 1042.5h.9M620.1 1038.7h.9M624.2 1036.1h.9M628.3 1033.5h.9M632.4 1030.5h.9M636.5 1028.3h.9M640.6 1025.2h.9M644.7 1022.4h.9M648.8 1017.7h.9M652.9 1013.2h.9M657.0 1010.1h.9M661.1 1010.7h.9M665.2 1007.3h.9M669.3 1002.8h.9M673.4 998.9h.9M677.5 995.3h.9M681.6 990.9h.9M685.7 986.1h.9M689.8 982.3h.9M693.9 976.8h.9M698.0 972.9h.9M702.1 968.0h.9M706.2 963.0h.9M710.3 958.2h.9M714.4 953.8h.9M718.5 950.1h.9M722.6 945.1h.9M726.7 941.0h.9M730.8 937.1h.9M734.9 932.8h.9M739.0 928.8h.9M743.1 924.2h.9M747.2 919.9h.9M751.3 916.1h.9M755.4 912.9h.9M759.5 909.1h.9M763.6 905.5h.9M767.7 902.2h.9M771.8 899.5h.9M775.9 897.3h.9M780.0 896.0h.9M784.1 897.1h.9M788.2 898.0h.9M792.3 899.6h.9M796.4 902.2h.9M800.5 905.7h.9M804.6 908.9h.9M808.7 911.3h.9M812.8 915.1h.9M816.9 917.5h.9M821.0 920.6h.9M825.1 924.3h.9M829.2 926.9h.9M833.3 930.3h.9M837.4 933.1h.9M841.5 936.9h.9M845.6 940.6h.9M849.7 945.0h.9M853.8 950.7h.9M857.9 955.4h.9M862.0 960.0h.9M866.1 963.8h.9M870.2 967.4h.9M874.3 971.0h.9M878.4 975.1h.9M882.5 979.2h.9M886.6 982.4h.9M890.7 986.1h.9M894.8 989.0h.9M898.9 993.1h.9M903.0 996.9h.9M907.1 1001.2h.9M911.2 1004.9h.9M915.3 1007.9h.9M919.4 1011.3h.9M923.5 1015.2h.9M927.6 1018.2h.9M931.7 1022.0h.9M935.8 1025.4h.9M939.9 1028.8h.9M944.0 1032.3h.9M948.1 1036.8h.9M952.2 1040.1h.9M956.3 1043.7h.9M960.4 1047.6h.9M964.5 1052.1h.9M968.6 1055.1h.9M972.7 1058.9h.9M976.8 1062.8h.9M980.9 1067.1h.9M985.0 1071.1h.9M989.1 1075.0h.9M993.2 1078.2h.9M997.3 1082.0h.9M1001.4 1085.9h.9M1005.5 1089.4h.9M1009.6 1091.3h.9M1013.7 1091.9h.9" fill="none" stroke="#3b49a6" stroke-width="3.2" stroke-linecap="round" filter="url(#b0)"/>
<path d="M633.5 1083.1h.9M637.6 1081.5h.9M641.8 1078.0h.9M645.9 1075.9h.9M650.0 1072.0h.9M654.1 1068.7h.9M658.2 1066.9h.9M662.3 1059.0h.9M666.4 1055.6h.9M670.5 1053.3h.9M674.6 1048.8h.9M678.7 1043.4h.9M682.8 1039.2h.9M686.9 1036.4h.9M691.0 1031.8h.9M695.1 1027.7h.9M699.2 1023.0h.9M703.3 1017.5h.9M707.4 1013.4h.9M711.5 1011.8h.9M715.6 1008.9h.9M719.7 1005.6h.9M723.8 1002.9h.9M727.9 999.6h.9M732.0 993.5h.9M736.1 988.9h.9M740.2 984.7h.9M744.3 981.9h.9M748.4 978.4h.9M752.5 978.0h.9M756.6 977.1h.9M760.7 976.5h.9M764.8 976.3h.9M768.9 976.1h.9M773.0 975.4h.9M777.1 975.0h.9M781.2 976.4h.9M785.3 976.6h.9M789.4 976.5h.9M793.5 978.0h.9M797.6 978.5h.9M801.7 979.2h.9M805.8 980.1h.9M809.9 979.8h.9M814.0 980.4h.9M818.1 982.1h.9M822.2 982.1h.9M826.3 985.2h.9M830.4 987.6h.9M834.5 991.4h.9M838.6 996.6h.9M842.7 1002.2h.9M846.8 1006.1h.9M850.9 1009.3h.9M855.0 1012.1h.9M859.1 1015.2h.9M863.2 1018.8h.9M867.3 1022.3h.9M871.4 1024.8h.9M875.5 1029.2h.9M879.6 1032.4h.9M883.7 1036.0h.9M887.8 1038.7h.9M891.9 1041.7h.9M896.0 1044.4h.9M900.1 1047.9h.9M904.2 1052.5h.9M908.3 1058.7h.9M912.4 1061.6h.9M916.5 1065.2h.9M920.6 1068.6h.9M924.7 1070.8h.9M928.8 1077.3h.9M932.9 1082.6h.9M937.0 1087.6h.9M941.1 1092.9h.9M945.2 1096.4h.9M949.3 1100.5h.9M953.4 1100.9h.9M957.5 1102.6h.9M961.6 1107.9h.9M965.7 1112.1h.9M969.8 1115.2h.9M973.9 1118.3h.9M978.0 1121.0h.9M982.1 1124.0h.9M986.2 1127.1h.9M990.3 1132.6h.9M994.4 1138.3h.9M998.5 1139.5h.9M1002.6 1141.7h.9" fill="none" stroke="#111" stroke-width="3.4" stroke-linecap="round" filter="url(#b0)"/>
<text x="789.0" y="890.0" font-size="33.5" font-style="italic">r</text><text x="801.4" y="896.8" font-size="19" font-style="italic">n</text>
</svg></body></html>
